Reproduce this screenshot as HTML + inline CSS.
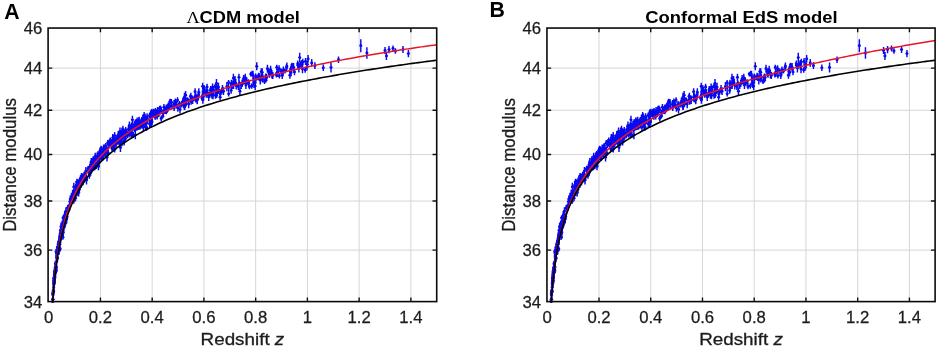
<!DOCTYPE html>
<html lang="en"><head><meta charset="utf-8"><title>Distance modulus vs redshift</title>
<style>html,body{margin:0;padding:0;background:#fff;overflow:hidden}svg{display:block}</style>
</head><body>
<svg width="941" height="347" viewBox="0 0 941 347" font-family="'Liberation Sans',Arial,Helvetica,sans-serif">
<rect width="941" height="347" fill="#fff"/>
<g>
<path d="M100.44 28.05 V301.6 M152.18 28.05 V301.6 M203.92 28.05 V301.6 M255.66 28.05 V301.6 M307.4 28.05 V301.6 M359.14 28.05 V301.6 M410.88 28.05 V301.6 M48.1 250.11 H436.7 M48.1 201.07 H436.7 M48.1 154.54 H436.7 M48.1 110.29 H436.7 M48.1 68.1 H436.7" stroke="#d6d6d6" stroke-width="1.0" fill="none"/>
<clipPath id="c0"><rect x="48.1" y="28.05" width="388.6" height="274.45"/></clipPath>
<g clip-path="url(#c0)">
<path d="M52.88 291.18v5.54M55.61 264.26v9.64M54.28 274.95v9.7M55.39 268.57v6.32M56.38 262.18v9.58M54.67 268.81v9.56M54.53 272.75v5.27M52.86 289.12v8.72M53.62 282.51v9.81M54.52 273.26v8.97M55.22 267.22v5.36M55.7 265.51v6.78M54.06 276.97v7.67M52.84 298.5v6.78M53.7 281.59v6.78M56.11 260.01v5.12M53.41 287.92v4.82M54.33 278.52v6.3M56.19 266.02v6.86M52.68 300.04v7.91M54.91 272.74v9.67M56.27 268.33v5.15M53.47 288.07v6.6M54.71 266.26v9.17M56.11 262.94v8.9M53.1 296.67v5.39M54.61 270.33v8.16M55.49 269.36v5.11M55.18 262.95v9.5M54.4 275.7v6.09M53.38 287.55v7.96M54.48 271.06v7.14M54.03 275.19v7.38M54.43 277.46v5.84M54 279.75v6.61M55.83 262.05v6.07M55.56 268.55v7.89M53.8 274.55v6.89M54.8 267.49v7.75M53.65 279.16v7.51M54.34 273.67v8.14M53.95 275.95v9.78M55.13 268.31v7.45M54.02 276.34v7.54M54.36 276.26v7.91M55.37 265.91v7.49M54.18 274.71v6.84M56.1 248.87v5.81M53.28 288.47v7.62M55.46 260.68v5.89M54.22 277.06v8.14M54.24 278.96v9.37M55.04 267.83v8.79M54.61 272.32v8.79M54.19 279.35v5.82M52.59 297.02v5M52.94 292.09v5.85M55.33 264.48v7.58M54.62 269.85v5.31M55.28 269.16v5.2M63.88 219.76v9.35M61.76 231.22v6.27M56.87 256.38v4.94M58.86 240.94v7.13M61.06 222.6v7.87M58.29 243.45v6.86M63.95 222.49v5.09M63.8 223.75v6.97M63.05 215.53v4.8M60.13 229.98v8.17M62.99 222.75v9.16M57.48 255.32v4.87M58.86 243.96v7.4M60.05 232.43v8.67M62.22 220.61v7.56M60.23 246.24v5.37M57.52 244.7v4.93M59.13 237.76v6.82M58.98 239.72v4.83M58.79 237.63v8.72M57.75 247.48v7.19M59.68 237.31v6.1M59.94 231.79v8.38M62.48 227.43v5.57M62.64 230.45v7.07M60.52 232.78v7.03M60.04 234.63v5.07M62.5 226.41v8.4M63.35 223.21v7.94M61.7 228.06v5.43M62.67 226.22v6.58M63.75 220.05v5.92M56.78 248.62v9.33M63.26 228.55v7.88M58.61 245.76v9.32M60.15 232.78v8.29M62.64 223.08v8.38M62.03 229.22v5.98M57.6 246.3v8.85M61.57 226.94v6.14M57 248.33v8.73M59.23 246.24v8.2M62.77 221.2v6.96M59.78 236.26v5.39M61.12 226.35v7.41M62.11 226.04v7.64M62.83 226.91v7.85M62.36 228.91v4.83M56.52 253.11v5.84M59.72 240.53v7.33M60.06 234.95v8.74M56.89 250.6v5.76M60.66 234.58v8.96M61.18 227.54v9.32M62.89 234.76v4.99M63.77 218.14v7.96M57.46 255.28v6.67M58.25 247.2v5.24M61.58 223.61v5.58M57.49 246.07v6.42M58.2 241.63v4.65M60.92 228.19v7.88M57.78 243.75v6.81M62.53 225.51v6.14M63.11 217.79v8.65M56.72 253.06v9.53M60.59 226.84v6.8M62.65 227.37v6.02M64.03 219.33v7.47M58.59 241.13v6.56M65.97 210.9v8.85M73.29 195.24v5.74M73.63 198.77v4.95M66.27 213.57v4.47M68.79 205.34v5.17M71.66 198.61v4.76M72.97 190.04v8.79M65.96 211.06v7.78M71.1 195.15v7.08M72.58 189.69v8.87M69.91 197.92v7.34M65.93 207.18v7.76M64.59 223.13v5.34M67.14 213.81v5.81M72.58 194.91v7.35M64.69 210.94v8.47M64.31 219.89v5.85M67.96 204.8v6.69M64.88 220.66v5.9M65.77 210.78v5.79M64.46 213.6v7.27M69.65 201.77v8.82M71.43 192.83v8.97M68.64 204.94v7.16M65.61 220.55v4.56M67.65 204.96v5.8M70.33 195.35v7.47M73.96 189.64v8.67M74.49 191.58v5.16M66.72 214.89v8.45M64.33 217.05v8.79M72.82 194.3v4.89M73.81 182.64v8.65M68.97 203.63v7.37M72.2 194.55v8.37M85.77 172.8v7.44M82.46 177.98v7.57M85.86 166.94v8.24M74.88 190.59v8.12M78.08 185.66v6.34M78.16 184.02v6.21M76.13 180.94v8.91M86.35 177.13v5.6M74.96 188.38v6.08M83.27 173.52v4.88M75.49 195.24v5.96M79.24 183.64v6.98M79.98 178.49v5.28M76.92 178.67v6.24M81.31 180.4v7.34M81.49 173.03v6M78.67 188.64v7.92M84.1 171.81v6.84M76.64 190.08v5.96M77.06 188.37v7.79M79.16 181.31v7.02M79.46 179.13v6.43M77.24 185.61v5.03M86.45 173.53v9.11M85.28 171.18v5.26M75.95 184.05v6.22M79.35 186.06v7.08M77.58 183.69v8.76M80.4 175.54v5.62M78.14 179.13v4.75M81.06 177.57v7.78M86.5 175.64v8.78M79.52 182.3v6.41M82.98 176.18v9.1M82.27 173.41v5.83M84.3 173.42v8.5M75.37 192.11v4.3M84.2 174.92v7.5M99.75 151.09v8.28M95.31 164.02v5.55M91.22 163.28v8.11M96.2 160.58v7.24M96.72 156.21v5.88M96 162.11v4.56M89.41 169.93v7.33M100.1 147.57v6.04M99.86 150.6v6.73M93 160.97v5.03M95.18 160.69v4.46M88.02 166.31v4.83M100.29 149.96v7.42M98.1 151.08v5.01M95.74 158.88v5.51M97.35 160.19v6.97M89.94 164.59v5.41M91.48 160.36v6.31M90.69 169.61v6.25M95.21 152.66v7.71M88.69 165.82v6.03M99.09 157.43v5.68M93.48 156.53v8.98M93.26 156.34v5.21M88.86 167.68v7.13M96.36 161.88v7.12M98.07 156.08v5.71M95.65 157.33v7.68M90.64 160.6v7.93M97.66 154.99v6.35M89.39 172.76v5.94M98.21 159.33v4.85M95.02 160.75v8.33M91.25 157.9v8.93M94.14 157.77v5.51M95.64 162.11v5.73M90.85 164.21v7.39M98.46 162.53v7.78M92.95 162.25v8.06M99.05 158.58v7.81M98.31 155.5v7.38M88.79 168.46v7.14M95.86 156.27v4.27M91.52 165.61v6.74M97.26 152.48v7.48M94.52 158.33v5.62M93.42 165.11v5.59M99.09 154.42v6.35M88.25 165.83v6.9M94.71 165.73v4.59M104.68 146.42v7.51M100.9 152.11v7.51M110.19 137.39v5.45M107.71 140.11v5.64M112.01 146.11v4.95M108.18 149.72v6.33M104.8 146.3v8.5M113.18 138.51v5.99M101.94 150v8.63M101.12 151.99v5.26M109.92 138.7v5.12M105.24 150.59v6.5M105.12 146.74v5.21M111.78 139.02v4.84M104.67 148.21v7.38M111.94 140v5.7M108.77 140.58v7.4M104.7 151.25v5.24M101.21 152.8v5.51M103.61 144.52v8.21M112.97 143.2v6.96M105.68 143.12v4.85M102.51 151.47v6.24M104.29 147.19v4.68M112.08 143.86v4.58M102.57 148.28v7.03M110.5 140.78v5.02M102.18 153.19v5.48M112.88 143.77v4.5M107.3 146.45v4.88M101 145.68v6.43M112.48 144.31v4.97M105.07 144.59v5.7M109.9 140.39v6.44M107.21 147.16v5.29M101.64 150.72v5.02M101.81 146.52v4.76M102.37 152.49v8.39M102.53 155.02v6.01M101.12 151.08v6.41M101.05 152.4v7.59M112.71 134.05v7.51M101.62 146.19v7.31M107.02 152.96v8.47M101.97 148.78v6.65M103.22 152.12v5.15M110.31 139.5v6.85M112.57 144.05v6.44M106.52 146.37v7.86M100.51 150.5v5.58M126.3 129.55v7.16M113.99 137.71v4.06M118.41 138.36v6.22M120.35 138.48v5.77M124.91 131.68v4.68M124.02 129.78v7.72M121.26 132.12v7.8M118.53 135.95v5.37M124.17 136.88v7.39M124.62 130.86v8.33M124.65 131.21v6.74M122.66 127.72v5.88M114.64 132.05v7.04M117.24 134.98v6.07M119.66 139.64v6.96M119.91 131.14v7.48M124.15 133.43v5.77M116.45 135.35v7.01M121.97 135.27v6.5M118.22 131.09v7.08M123.41 130.19v5.73M115.91 138.83v7.4M119.54 130.44v4.66M114.71 146.07v6.51M116.12 140.82v6.68M125.47 136.49v4.14M117.46 135.25v7.72M124.93 130.8v6.68M120.16 142.08v4.88M113.88 139.67v7.98M123.63 129.44v7.65M114.05 135.05v8.57M124.07 138.2v7.23M113.49 144.65v6.8M122.09 127.45v7.52M115.52 139.27v5.85M117.81 138.07v6.03M125.7 126.98v5.76M119.66 132.52v5.62M121.88 137.42v8.72M122.96 132.09v6.78M114.8 140.3v6.5M124.22 129.94v5.88M125.2 133.06v6.09M115.39 137.36v5.14M120.44 143.27v8.62M117.04 136.17v7.63M122.96 125.81v6.51M113.74 136.57v6.77M120 127.52v7.88M136.57 121.51v5.68M135.81 124.41v5.76M127.71 131.72v6.61M137.08 123.95v6.6M129.39 121.53v7.9M136.76 122.05v7.9M132.74 122.84v8.38M128.39 125.76v7.1M135.8 124.64v6.45M136.76 119.07v4.72M135.35 130.76v8.42M138.79 117.38v8.2M129.62 126.01v6.93M129.36 125.86v7.68M128.21 128.79v8.03M133.29 132.1v5.99M131.48 122.58v6.54M130.92 125.52v8.35M132.26 124.2v5.1M129.86 127.62v5.25M126.37 128.99v8.46M132.41 115.63v8.35M129.88 129.77v4.56M132.13 126.35v6.87M138.32 122.54v7.39M128.63 128.55v7.3M134.56 124.68v6.88M134.65 125.05v7.11M129.95 130.32v7.1M132.4 124.27v6.96M138.85 124v4.84M130.74 130.72v5.28M135.52 124.87v5.75M137.18 117.59v8.37M130.98 124.52v6.46M139.11 116.86v6.79M134.41 120.75v8.55M132.79 125v5.04M135.56 122.02v5.47M131.79 132.72v5.26M135.52 119.14v8.16M129.86 126.13v7.32M151.24 110.73v4.75M146.26 120.53v4.5M142.37 121.56v4.91M144.9 113.59v8.29M150.82 117.73v5.98M149.68 119.71v8.38M145.51 120.95v7.69M143.79 115.56v8.92M144.11 112.07v6.41M151.94 112.79v5.87M140.7 120.41v6.73M150.74 115.34v8.59M150.34 119.27v8.47M142.15 122.53v5.96M143.76 115.13v6.53M146.61 116.02v7.57M149.62 112.4v5.99M151.54 112.76v5.42M152.07 119.15v5.27M142.88 114.83v6.65M141.73 117.05v5.33M145.55 122.31v7.75M146.46 123.41v7.46M147.74 115.42v8.75M140.64 121.32v7.34M147.61 116.91v6.07M151.16 115.52v4.82M151.08 113.54v5.77M151.45 116.39v8.18M151.18 120.56v7.36M151.67 108.99v4.5M139.87 122.86v6.87M151.09 111.57v7.34M142.75 118.22v8M143.39 123.39v7.68M145.18 115.61v8.61M151.6 116.6v6.37M147.07 113.21v7.34M156.74 112.92v4.77M157.02 110.01v6.95M163.89 103.9v6.52M162.82 113.74v4.84M153.96 110.39v5.69M155.4 112.47v7.4M156.99 112.43v5.14M154.98 113.78v5.76M159.47 108.44v5.9M155.07 111.48v7.35M159.62 105.73v5.05M164.29 108.12v4.88M163.16 110v5.23M153.46 108.8v7.85M154.86 109.55v4.78M157.52 107.03v7.04M160.54 105.55v6.19M157.18 113.6v6.02M155.43 107.91v5.61M156.64 111.63v6.46M154.82 111.41v4.46M163.33 110.12v5.84M161.2 115.46v6.13M157.5 108.51v4.86M161.24 106.95v6.5M158.9 110.73v6.15M158.99 111.36v4.58M169.87 99.26v5.32M171.43 99.03v6.26M177.86 104.33v7.4M175.26 98.59v8.31M175.82 100.25v7M166.72 105.14v4.88M171.64 102.49v7.21M169.86 102.33v7.99M166.27 105.75v4.28M170.23 98.69v5.39M166.07 109.4v4.18M168.14 103.87v6.88M175.45 99.54v4.76M173.99 99.91v8.68M174.15 105.02v5.95M166.14 105.29v7.17M167.24 105.14v5.65M165.39 108.33v5.56M166.38 109.56v4.71M166.42 104.43v7.9M177.53 97.26v5.55M176.68 102.93v5.2M167.76 106.04v6.08M168.4 102.55v4.83M190.48 97.56v5.25M185.42 99.61v5.77M182.82 97.8v8.57M184.08 99.17v8.34M181.57 102.39v5.16M185.6 91.01v8.26M187.43 97.14v4.06M184.72 102.54v7.4M188.67 99.67v8.65M179.51 100.93v5.66M185.86 98.12v4.89M190.85 92.66v7.96M179.98 105.62v7.79M184.45 92.77v8.78M186.2 101.04v5.29M182.42 99.95v4.52M190.53 94.08v4.1M184.33 104.1v5.98M184.24 97.49v4.57M202.66 82.79v6.98M191.19 97.56v4.43M202.22 93.31v6.15M192.65 96.81v7.1M195.89 93.27v4.63M197.3 95.55v7.98M197.15 95.85v8.28M191.49 95.35v6.12M195.09 88.25v6.76M195.6 93.27v6.25M203.35 92.27v9.02M202.85 95.28v8.43M198.54 90.32v8.94M203.06 88.89v5.52M202.16 95.61v5.29M195.84 98.4v4.08M192.5 95.47v4.4M198.84 88.13v8.74M195.16 93.8v6.97M191.11 98.18v6.59M216.61 92.73v5.32M216.46 79.08v8.47M210.86 86.8v4.21M211.92 91.12v7.73M212.57 83.55v7.34M215.9 83.09v7.9M209.97 89.37v8.2M211.46 88.84v7.19M206.85 87.06v6.69M207.06 83.84v6.22M210.67 86.1v7.65M206.88 88.21v5.03M204.31 85.18v5.78M208.69 92.98v7.93M213.62 86.19v7.79M207.5 89.06v7.56M215.08 84.27v4.09M213.01 91.59v7.63M212.37 85.95v8.42M215.46 91.74v6.91M204.87 88.93v5.78M206.23 91.46v6.39M228.62 83.94v7.2M228.59 79.91v5.5M217.87 88.22v4.78M226.87 82.01v9.36M217.05 87.13v6.82M218.6 86.74v6.09M218.27 87.85v6.2M220.66 89.46v4.65M221.88 87.55v5.25M228.64 91.31v5.1M222.5 85.08v8.13M218.46 82.87v8.33M220.38 89.66v8.79M216.94 84.44v8.98M217.22 89.62v4.53M222.43 88.44v5M223.48 87.26v7.75M220.09 94.01v6.41M234.7 76.64v8.76M231.13 87.03v6.78M238.31 83.21v6.83M234.87 78.2v6.43M231.88 80.74v5.78M236.22 81.73v7.65M232.49 83.58v5.3M233.57 80.98v8.04M231.4 79.86v7.22M239.89 87.17v7.99M233.4 73.86v8.37M242.15 79.38v7.51M235.03 76.01v7.63M231.8 80.88v7.7M238.91 73.69v7.19M239.28 80.43v5.02M241.19 81.93v7.05M231.49 81.56v6.81M252.94 70.84v8.25M253.85 76.31v7.54M246.66 77.33v7.64M248.6 80.72v5.29M250.74 71.74v4.73M245.9 80.89v8.22M254 80.31v7.73M251.77 83.23v5.48M253.81 79.86v4.61M248.54 79.23v4.76M249.44 84.16v5.12M245.24 73.68v8.1M246.79 77.98v6.89M252.16 70.63v5.89M255.13 81.75v8.61M244.69 78.37v5.64M243.38 78.33v6.34M243.6 74.99v7.54M261.29 68.37v6.38M265.91 78.1v4.43M258.57 72.73v6.97M261.83 73.62v4.68M262.33 76.5v6.07M266.5 73.87v6.6M257.78 74.57v5.79M255.85 74.56v9.12M262.21 68.29v8.01M260.26 75.56v8.97M259.44 73.17v7.95M265.65 73.47v5.91M264.5 78.8v5.23M256.75 62.28v8M262.75 74.07v6.62M265.98 74.39v7.94M267.43 64.66v8.06M255.66 73.49v5.81M279.04 65.17v7.03M269.15 70.78v5.97M277.42 68.87v6.02M276.33 72.02v5.44M280.91 68.16v5.23M276.77 64.83v5.21M269.5 70.35v7.4M277.27 69.6v7.46M271.89 70.01v8.56M279.36 73.05v5.57M269 68.39v6.07M272.79 71.92v7.12M277.34 69.05v6.6M270.61 65.85v7.84M289.89 71.61v7.08M290.55 68.16v5.96M291.02 68.72v7.53M292.85 63.86v6.13M286.87 62.38v7.32M283.37 66.47v6.81M284.9 68.47v5.08M286.57 64.02v6.91M282.24 71.89v7.17M290.7 65.99v5.88M282.35 71.28v6.2M282.28 69.72v5.81M293.59 63.11v8.42M291.96 62.63v4.73M297.75 60.53v6.45M298.88 63.71v8.76M305.15 67.25v5.38M302.47 64.69v8.65M297.89 62.49v5.51M300.27 61.29v6.15M305.53 58.02v6.86M294.47 68.59v6.74M307.3 60.61v7.5M301.79 60.08v8.2M323.3 64.5v6.6M331 62.4v10M338.5 56.4v6.6M360.8 39.2v13M366.9 47.3v11.4M385 47v7M386.4 52.1v7.8M389 45.9v7.4M393 45.4v6M395.4 48.2v5.6M403 46.1v7M408.4 49.9v7.4M308.1 55.1v7.6M311.7 59.1v7.6M314.9 62.3v6.8M306.9 64.1v6.4M302.8 58.7v6.8M299.7 52.7v9.8" stroke="#0a0af0" stroke-width="1.45" fill="none"/>
<g fill="#0a0af0"><ellipse cx="52.88" cy="293.95" rx="1.55" ry="1.4"/><ellipse cx="55.61" cy="269.08" rx="1.55" ry="1.4"/><ellipse cx="54.28" cy="279.8" rx="1.55" ry="1.4"/><ellipse cx="55.39" cy="271.72" rx="1.55" ry="1.4"/><ellipse cx="56.38" cy="266.97" rx="1.55" ry="1.4"/><ellipse cx="54.67" cy="273.59" rx="1.55" ry="1.4"/><ellipse cx="54.53" cy="275.38" rx="1.55" ry="1.4"/><ellipse cx="52.86" cy="293.48" rx="1.55" ry="1.4"/><ellipse cx="53.62" cy="287.42" rx="1.55" ry="1.4"/><ellipse cx="54.52" cy="277.74" rx="1.55" ry="1.4"/><ellipse cx="55.22" cy="269.9" rx="1.55" ry="1.4"/><ellipse cx="55.7" cy="268.9" rx="1.55" ry="1.4"/><ellipse cx="54.06" cy="280.8" rx="1.55" ry="1.4"/><ellipse cx="52.84" cy="301.89" rx="1.55" ry="1.4"/><ellipse cx="53.7" cy="284.98" rx="1.55" ry="1.4"/><ellipse cx="56.11" cy="262.57" rx="1.55" ry="1.4"/><ellipse cx="53.41" cy="290.33" rx="1.55" ry="1.4"/><ellipse cx="54.33" cy="281.67" rx="1.55" ry="1.4"/><ellipse cx="56.19" cy="269.45" rx="1.55" ry="1.4"/><ellipse cx="52.68" cy="304" rx="1.55" ry="1.4"/><ellipse cx="54.91" cy="277.58" rx="1.55" ry="1.4"/><ellipse cx="56.27" cy="270.91" rx="1.55" ry="1.4"/><ellipse cx="53.47" cy="291.36" rx="1.55" ry="1.4"/><ellipse cx="54.71" cy="270.84" rx="1.55" ry="1.4"/><ellipse cx="56.11" cy="267.39" rx="1.55" ry="1.4"/><ellipse cx="53.1" cy="299.36" rx="1.55" ry="1.4"/><ellipse cx="54.61" cy="274.41" rx="1.55" ry="1.4"/><ellipse cx="55.49" cy="271.91" rx="1.55" ry="1.4"/><ellipse cx="55.18" cy="267.7" rx="1.55" ry="1.4"/><ellipse cx="54.4" cy="278.74" rx="1.55" ry="1.4"/><ellipse cx="53.38" cy="291.53" rx="1.55" ry="1.4"/><ellipse cx="54.48" cy="274.63" rx="1.55" ry="1.4"/><ellipse cx="54.03" cy="278.88" rx="1.55" ry="1.4"/><ellipse cx="54.43" cy="280.39" rx="1.55" ry="1.4"/><ellipse cx="54" cy="283.05" rx="1.55" ry="1.4"/><ellipse cx="55.83" cy="265.08" rx="1.55" ry="1.4"/><ellipse cx="55.56" cy="272.49" rx="1.55" ry="1.4"/><ellipse cx="53.8" cy="278" rx="1.55" ry="1.4"/><ellipse cx="54.8" cy="271.37" rx="1.55" ry="1.4"/><ellipse cx="53.65" cy="282.91" rx="1.55" ry="1.4"/><ellipse cx="54.34" cy="277.74" rx="1.55" ry="1.4"/><ellipse cx="53.95" cy="280.85" rx="1.55" ry="1.4"/><ellipse cx="55.13" cy="272.03" rx="1.55" ry="1.4"/><ellipse cx="54.02" cy="280.11" rx="1.55" ry="1.4"/><ellipse cx="54.36" cy="280.21" rx="1.55" ry="1.4"/><ellipse cx="55.37" cy="269.65" rx="1.55" ry="1.4"/><ellipse cx="54.18" cy="278.13" rx="1.55" ry="1.4"/><ellipse cx="56.1" cy="251.77" rx="1.55" ry="1.4"/><ellipse cx="53.28" cy="292.28" rx="1.55" ry="1.4"/><ellipse cx="55.46" cy="263.63" rx="1.55" ry="1.4"/><ellipse cx="54.22" cy="281.13" rx="1.55" ry="1.4"/><ellipse cx="54.24" cy="283.65" rx="1.55" ry="1.4"/><ellipse cx="55.04" cy="272.23" rx="1.55" ry="1.4"/><ellipse cx="54.61" cy="276.72" rx="1.55" ry="1.4"/><ellipse cx="54.19" cy="282.26" rx="1.55" ry="1.4"/><ellipse cx="52.59" cy="299.52" rx="1.55" ry="1.4"/><ellipse cx="52.94" cy="295.01" rx="1.55" ry="1.4"/><ellipse cx="55.33" cy="268.27" rx="1.55" ry="1.4"/><ellipse cx="54.62" cy="272.51" rx="1.55" ry="1.4"/><ellipse cx="55.28" cy="271.76" rx="1.55" ry="1.4"/><ellipse cx="63.88" cy="224.44" rx="1.55" ry="1.4"/><ellipse cx="61.76" cy="234.35" rx="1.55" ry="1.4"/><ellipse cx="56.87" cy="258.85" rx="1.55" ry="1.4"/><ellipse cx="58.86" cy="244.51" rx="1.55" ry="1.4"/><ellipse cx="61.06" cy="226.53" rx="1.55" ry="1.4"/><ellipse cx="58.29" cy="246.88" rx="1.55" ry="1.4"/><ellipse cx="63.95" cy="225.04" rx="1.55" ry="1.4"/><ellipse cx="63.8" cy="227.23" rx="1.55" ry="1.4"/><ellipse cx="63.05" cy="217.93" rx="1.55" ry="1.4"/><ellipse cx="60.13" cy="234.07" rx="1.55" ry="1.4"/><ellipse cx="62.99" cy="227.33" rx="1.55" ry="1.4"/><ellipse cx="57.48" cy="257.75" rx="1.55" ry="1.4"/><ellipse cx="58.86" cy="247.66" rx="1.55" ry="1.4"/><ellipse cx="60.05" cy="236.76" rx="1.55" ry="1.4"/><ellipse cx="62.22" cy="224.39" rx="1.55" ry="1.4"/><ellipse cx="60.23" cy="248.92" rx="1.55" ry="1.4"/><ellipse cx="57.52" cy="247.16" rx="1.55" ry="1.4"/><ellipse cx="59.13" cy="241.17" rx="1.55" ry="1.4"/><ellipse cx="58.98" cy="242.14" rx="1.55" ry="1.4"/><ellipse cx="58.79" cy="241.99" rx="1.55" ry="1.4"/><ellipse cx="57.75" cy="251.07" rx="1.55" ry="1.4"/><ellipse cx="59.68" cy="240.36" rx="1.55" ry="1.4"/><ellipse cx="59.94" cy="235.97" rx="1.55" ry="1.4"/><ellipse cx="62.48" cy="230.21" rx="1.55" ry="1.4"/><ellipse cx="62.64" cy="233.99" rx="1.55" ry="1.4"/><ellipse cx="60.52" cy="236.29" rx="1.55" ry="1.4"/><ellipse cx="60.04" cy="237.16" rx="1.55" ry="1.4"/><ellipse cx="62.5" cy="230.61" rx="1.55" ry="1.4"/><ellipse cx="63.35" cy="227.18" rx="1.55" ry="1.4"/><ellipse cx="61.7" cy="230.78" rx="1.55" ry="1.4"/><ellipse cx="62.67" cy="229.51" rx="1.55" ry="1.4"/><ellipse cx="63.75" cy="223.01" rx="1.55" ry="1.4"/><ellipse cx="56.78" cy="253.29" rx="1.55" ry="1.4"/><ellipse cx="63.26" cy="232.49" rx="1.55" ry="1.4"/><ellipse cx="58.61" cy="250.42" rx="1.55" ry="1.4"/><ellipse cx="60.15" cy="236.92" rx="1.55" ry="1.4"/><ellipse cx="62.64" cy="227.27" rx="1.55" ry="1.4"/><ellipse cx="62.03" cy="232.21" rx="1.55" ry="1.4"/><ellipse cx="57.6" cy="250.73" rx="1.55" ry="1.4"/><ellipse cx="61.57" cy="230.01" rx="1.55" ry="1.4"/><ellipse cx="57" cy="252.7" rx="1.55" ry="1.4"/><ellipse cx="59.23" cy="250.34" rx="1.55" ry="1.4"/><ellipse cx="62.77" cy="224.68" rx="1.55" ry="1.4"/><ellipse cx="59.78" cy="238.95" rx="1.55" ry="1.4"/><ellipse cx="61.12" cy="230.06" rx="1.55" ry="1.4"/><ellipse cx="62.11" cy="229.86" rx="1.55" ry="1.4"/><ellipse cx="62.83" cy="230.83" rx="1.55" ry="1.4"/><ellipse cx="62.36" cy="231.32" rx="1.55" ry="1.4"/><ellipse cx="56.52" cy="256.03" rx="1.55" ry="1.4"/><ellipse cx="59.72" cy="244.2" rx="1.55" ry="1.4"/><ellipse cx="60.06" cy="239.32" rx="1.55" ry="1.4"/><ellipse cx="56.89" cy="253.47" rx="1.55" ry="1.4"/><ellipse cx="60.66" cy="239.06" rx="1.55" ry="1.4"/><ellipse cx="61.18" cy="232.2" rx="1.55" ry="1.4"/><ellipse cx="62.89" cy="237.25" rx="1.55" ry="1.4"/><ellipse cx="63.77" cy="222.12" rx="1.55" ry="1.4"/><ellipse cx="57.46" cy="258.61" rx="1.55" ry="1.4"/><ellipse cx="58.25" cy="249.81" rx="1.55" ry="1.4"/><ellipse cx="61.58" cy="226.4" rx="1.55" ry="1.4"/><ellipse cx="57.49" cy="249.28" rx="1.55" ry="1.4"/><ellipse cx="58.2" cy="243.95" rx="1.55" ry="1.4"/><ellipse cx="60.92" cy="232.13" rx="1.55" ry="1.4"/><ellipse cx="57.78" cy="247.15" rx="1.55" ry="1.4"/><ellipse cx="62.53" cy="228.58" rx="1.55" ry="1.4"/><ellipse cx="63.11" cy="222.12" rx="1.55" ry="1.4"/><ellipse cx="56.72" cy="257.82" rx="1.55" ry="1.4"/><ellipse cx="60.59" cy="230.25" rx="1.55" ry="1.4"/><ellipse cx="62.65" cy="230.38" rx="1.55" ry="1.4"/><ellipse cx="64.03" cy="223.06" rx="1.55" ry="1.4"/><ellipse cx="58.59" cy="244.41" rx="1.55" ry="1.4"/><ellipse cx="65.97" cy="215.32" rx="1.55" ry="1.4"/><ellipse cx="73.29" cy="198.11" rx="1.55" ry="1.4"/><ellipse cx="73.63" cy="201.24" rx="1.55" ry="1.4"/><ellipse cx="66.27" cy="215.81" rx="1.55" ry="1.4"/><ellipse cx="68.79" cy="207.92" rx="1.55" ry="1.4"/><ellipse cx="71.66" cy="200.99" rx="1.55" ry="1.4"/><ellipse cx="72.97" cy="194.43" rx="1.55" ry="1.4"/><ellipse cx="65.96" cy="214.95" rx="1.55" ry="1.4"/><ellipse cx="71.1" cy="198.69" rx="1.55" ry="1.4"/><ellipse cx="72.58" cy="194.12" rx="1.55" ry="1.4"/><ellipse cx="69.91" cy="201.59" rx="1.55" ry="1.4"/><ellipse cx="65.93" cy="211.06" rx="1.55" ry="1.4"/><ellipse cx="64.59" cy="225.8" rx="1.55" ry="1.4"/><ellipse cx="67.14" cy="216.71" rx="1.55" ry="1.4"/><ellipse cx="72.58" cy="198.58" rx="1.55" ry="1.4"/><ellipse cx="64.69" cy="215.18" rx="1.55" ry="1.4"/><ellipse cx="64.31" cy="222.82" rx="1.55" ry="1.4"/><ellipse cx="67.96" cy="208.14" rx="1.55" ry="1.4"/><ellipse cx="64.88" cy="223.61" rx="1.55" ry="1.4"/><ellipse cx="65.77" cy="213.68" rx="1.55" ry="1.4"/><ellipse cx="64.46" cy="217.24" rx="1.55" ry="1.4"/><ellipse cx="69.65" cy="206.18" rx="1.55" ry="1.4"/><ellipse cx="71.43" cy="197.31" rx="1.55" ry="1.4"/><ellipse cx="68.64" cy="208.52" rx="1.55" ry="1.4"/><ellipse cx="65.61" cy="222.83" rx="1.55" ry="1.4"/><ellipse cx="67.65" cy="207.86" rx="1.55" ry="1.4"/><ellipse cx="70.33" cy="199.08" rx="1.55" ry="1.4"/><ellipse cx="73.96" cy="193.98" rx="1.55" ry="1.4"/><ellipse cx="74.49" cy="194.16" rx="1.55" ry="1.4"/><ellipse cx="66.72" cy="219.11" rx="1.55" ry="1.4"/><ellipse cx="64.33" cy="221.45" rx="1.55" ry="1.4"/><ellipse cx="72.82" cy="196.75" rx="1.55" ry="1.4"/><ellipse cx="73.81" cy="186.97" rx="1.55" ry="1.4"/><ellipse cx="68.97" cy="207.31" rx="1.55" ry="1.4"/><ellipse cx="72.2" cy="198.73" rx="1.55" ry="1.4"/><ellipse cx="85.77" cy="176.52" rx="1.55" ry="1.4"/><ellipse cx="82.46" cy="181.77" rx="1.55" ry="1.4"/><ellipse cx="85.86" cy="171.06" rx="1.55" ry="1.4"/><ellipse cx="74.88" cy="194.65" rx="1.55" ry="1.4"/><ellipse cx="78.08" cy="188.83" rx="1.55" ry="1.4"/><ellipse cx="78.16" cy="187.12" rx="1.55" ry="1.4"/><ellipse cx="76.13" cy="185.39" rx="1.55" ry="1.4"/><ellipse cx="86.35" cy="179.93" rx="1.55" ry="1.4"/><ellipse cx="74.96" cy="191.42" rx="1.55" ry="1.4"/><ellipse cx="83.27" cy="175.96" rx="1.55" ry="1.4"/><ellipse cx="75.49" cy="198.22" rx="1.55" ry="1.4"/><ellipse cx="79.24" cy="187.13" rx="1.55" ry="1.4"/><ellipse cx="79.98" cy="181.13" rx="1.55" ry="1.4"/><ellipse cx="76.92" cy="181.79" rx="1.55" ry="1.4"/><ellipse cx="81.31" cy="184.07" rx="1.55" ry="1.4"/><ellipse cx="81.49" cy="176.03" rx="1.55" ry="1.4"/><ellipse cx="78.67" cy="192.6" rx="1.55" ry="1.4"/><ellipse cx="84.1" cy="175.23" rx="1.55" ry="1.4"/><ellipse cx="76.64" cy="193.05" rx="1.55" ry="1.4"/><ellipse cx="77.06" cy="192.27" rx="1.55" ry="1.4"/><ellipse cx="79.16" cy="184.82" rx="1.55" ry="1.4"/><ellipse cx="79.46" cy="182.35" rx="1.55" ry="1.4"/><ellipse cx="77.24" cy="188.13" rx="1.55" ry="1.4"/><ellipse cx="86.45" cy="178.09" rx="1.55" ry="1.4"/><ellipse cx="85.28" cy="173.81" rx="1.55" ry="1.4"/><ellipse cx="75.95" cy="187.16" rx="1.55" ry="1.4"/><ellipse cx="79.35" cy="189.6" rx="1.55" ry="1.4"/><ellipse cx="77.58" cy="188.07" rx="1.55" ry="1.4"/><ellipse cx="80.4" cy="178.35" rx="1.55" ry="1.4"/><ellipse cx="78.14" cy="181.5" rx="1.55" ry="1.4"/><ellipse cx="81.06" cy="181.46" rx="1.55" ry="1.4"/><ellipse cx="86.5" cy="180.03" rx="1.55" ry="1.4"/><ellipse cx="79.52" cy="185.5" rx="1.55" ry="1.4"/><ellipse cx="82.98" cy="180.74" rx="1.55" ry="1.4"/><ellipse cx="82.27" cy="176.32" rx="1.55" ry="1.4"/><ellipse cx="84.3" cy="177.67" rx="1.55" ry="1.4"/><ellipse cx="75.37" cy="194.26" rx="1.55" ry="1.4"/><ellipse cx="84.2" cy="178.67" rx="1.55" ry="1.4"/><ellipse cx="99.75" cy="155.23" rx="1.55" ry="1.4"/><ellipse cx="95.31" cy="166.79" rx="1.55" ry="1.4"/><ellipse cx="91.22" cy="167.33" rx="1.55" ry="1.4"/><ellipse cx="96.2" cy="164.2" rx="1.55" ry="1.4"/><ellipse cx="96.72" cy="159.15" rx="1.55" ry="1.4"/><ellipse cx="96" cy="164.39" rx="1.55" ry="1.4"/><ellipse cx="89.41" cy="173.6" rx="1.55" ry="1.4"/><ellipse cx="100.1" cy="150.59" rx="1.55" ry="1.4"/><ellipse cx="99.86" cy="153.97" rx="1.55" ry="1.4"/><ellipse cx="93" cy="163.48" rx="1.55" ry="1.4"/><ellipse cx="95.18" cy="162.92" rx="1.55" ry="1.4"/><ellipse cx="88.02" cy="168.73" rx="1.55" ry="1.4"/><ellipse cx="100.29" cy="153.67" rx="1.55" ry="1.4"/><ellipse cx="98.1" cy="153.59" rx="1.55" ry="1.4"/><ellipse cx="95.74" cy="161.64" rx="1.55" ry="1.4"/><ellipse cx="97.35" cy="163.68" rx="1.55" ry="1.4"/><ellipse cx="89.94" cy="167.29" rx="1.55" ry="1.4"/><ellipse cx="91.48" cy="163.52" rx="1.55" ry="1.4"/><ellipse cx="90.69" cy="172.73" rx="1.55" ry="1.4"/><ellipse cx="95.21" cy="156.51" rx="1.55" ry="1.4"/><ellipse cx="88.69" cy="168.83" rx="1.55" ry="1.4"/><ellipse cx="99.09" cy="160.27" rx="1.55" ry="1.4"/><ellipse cx="93.48" cy="161.02" rx="1.55" ry="1.4"/><ellipse cx="93.26" cy="158.94" rx="1.55" ry="1.4"/><ellipse cx="88.86" cy="171.25" rx="1.55" ry="1.4"/><ellipse cx="96.36" cy="165.44" rx="1.55" ry="1.4"/><ellipse cx="98.07" cy="158.93" rx="1.55" ry="1.4"/><ellipse cx="95.65" cy="161.18" rx="1.55" ry="1.4"/><ellipse cx="90.64" cy="164.56" rx="1.55" ry="1.4"/><ellipse cx="97.66" cy="158.16" rx="1.55" ry="1.4"/><ellipse cx="89.39" cy="175.74" rx="1.55" ry="1.4"/><ellipse cx="98.21" cy="161.75" rx="1.55" ry="1.4"/><ellipse cx="95.02" cy="164.92" rx="1.55" ry="1.4"/><ellipse cx="91.25" cy="162.37" rx="1.55" ry="1.4"/><ellipse cx="94.14" cy="160.53" rx="1.55" ry="1.4"/><ellipse cx="95.64" cy="164.98" rx="1.55" ry="1.4"/><ellipse cx="90.85" cy="167.9" rx="1.55" ry="1.4"/><ellipse cx="98.46" cy="166.42" rx="1.55" ry="1.4"/><ellipse cx="92.95" cy="166.28" rx="1.55" ry="1.4"/><ellipse cx="99.05" cy="162.49" rx="1.55" ry="1.4"/><ellipse cx="98.31" cy="159.19" rx="1.55" ry="1.4"/><ellipse cx="88.79" cy="172.03" rx="1.55" ry="1.4"/><ellipse cx="95.86" cy="158.4" rx="1.55" ry="1.4"/><ellipse cx="91.52" cy="168.98" rx="1.55" ry="1.4"/><ellipse cx="97.26" cy="156.22" rx="1.55" ry="1.4"/><ellipse cx="94.52" cy="161.14" rx="1.55" ry="1.4"/><ellipse cx="93.42" cy="167.9" rx="1.55" ry="1.4"/><ellipse cx="99.09" cy="157.59" rx="1.55" ry="1.4"/><ellipse cx="88.25" cy="169.29" rx="1.55" ry="1.4"/><ellipse cx="94.71" cy="168.02" rx="1.55" ry="1.4"/><ellipse cx="104.68" cy="150.18" rx="1.55" ry="1.4"/><ellipse cx="100.9" cy="155.86" rx="1.55" ry="1.4"/><ellipse cx="110.19" cy="140.11" rx="1.55" ry="1.4"/><ellipse cx="107.71" cy="142.93" rx="1.55" ry="1.4"/><ellipse cx="112.01" cy="148.59" rx="1.55" ry="1.4"/><ellipse cx="108.18" cy="152.88" rx="1.55" ry="1.4"/><ellipse cx="104.8" cy="150.55" rx="1.55" ry="1.4"/><ellipse cx="113.18" cy="141.5" rx="1.55" ry="1.4"/><ellipse cx="101.94" cy="154.31" rx="1.55" ry="1.4"/><ellipse cx="101.12" cy="154.61" rx="1.55" ry="1.4"/><ellipse cx="109.92" cy="141.26" rx="1.55" ry="1.4"/><ellipse cx="105.24" cy="153.84" rx="1.55" ry="1.4"/><ellipse cx="105.12" cy="149.34" rx="1.55" ry="1.4"/><ellipse cx="111.78" cy="141.44" rx="1.55" ry="1.4"/><ellipse cx="104.67" cy="151.9" rx="1.55" ry="1.4"/><ellipse cx="111.94" cy="142.85" rx="1.55" ry="1.4"/><ellipse cx="108.77" cy="144.29" rx="1.55" ry="1.4"/><ellipse cx="104.7" cy="153.87" rx="1.55" ry="1.4"/><ellipse cx="101.21" cy="155.56" rx="1.55" ry="1.4"/><ellipse cx="103.61" cy="148.63" rx="1.55" ry="1.4"/><ellipse cx="112.97" cy="146.68" rx="1.55" ry="1.4"/><ellipse cx="105.68" cy="145.55" rx="1.55" ry="1.4"/><ellipse cx="102.51" cy="154.59" rx="1.55" ry="1.4"/><ellipse cx="104.29" cy="149.53" rx="1.55" ry="1.4"/><ellipse cx="112.08" cy="146.15" rx="1.55" ry="1.4"/><ellipse cx="102.57" cy="151.79" rx="1.55" ry="1.4"/><ellipse cx="110.5" cy="143.29" rx="1.55" ry="1.4"/><ellipse cx="102.18" cy="155.93" rx="1.55" ry="1.4"/><ellipse cx="112.88" cy="146.02" rx="1.55" ry="1.4"/><ellipse cx="107.3" cy="148.89" rx="1.55" ry="1.4"/><ellipse cx="101" cy="148.89" rx="1.55" ry="1.4"/><ellipse cx="112.48" cy="146.8" rx="1.55" ry="1.4"/><ellipse cx="105.07" cy="147.44" rx="1.55" ry="1.4"/><ellipse cx="109.9" cy="143.61" rx="1.55" ry="1.4"/><ellipse cx="107.21" cy="149.8" rx="1.55" ry="1.4"/><ellipse cx="101.64" cy="153.23" rx="1.55" ry="1.4"/><ellipse cx="101.81" cy="148.9" rx="1.55" ry="1.4"/><ellipse cx="102.37" cy="156.68" rx="1.55" ry="1.4"/><ellipse cx="102.53" cy="158.02" rx="1.55" ry="1.4"/><ellipse cx="101.12" cy="154.29" rx="1.55" ry="1.4"/><ellipse cx="101.05" cy="156.19" rx="1.55" ry="1.4"/><ellipse cx="112.71" cy="137.81" rx="1.55" ry="1.4"/><ellipse cx="101.62" cy="149.85" rx="1.55" ry="1.4"/><ellipse cx="107.02" cy="157.2" rx="1.55" ry="1.4"/><ellipse cx="101.97" cy="152.11" rx="1.55" ry="1.4"/><ellipse cx="103.22" cy="154.69" rx="1.55" ry="1.4"/><ellipse cx="110.31" cy="142.92" rx="1.55" ry="1.4"/><ellipse cx="112.57" cy="147.27" rx="1.55" ry="1.4"/><ellipse cx="106.52" cy="150.3" rx="1.55" ry="1.4"/><ellipse cx="100.51" cy="153.29" rx="1.55" ry="1.4"/><ellipse cx="126.3" cy="133.13" rx="1.55" ry="1.4"/><ellipse cx="113.99" cy="139.74" rx="1.55" ry="1.4"/><ellipse cx="118.41" cy="141.47" rx="1.55" ry="1.4"/><ellipse cx="120.35" cy="141.36" rx="1.55" ry="1.4"/><ellipse cx="124.91" cy="134.02" rx="1.55" ry="1.4"/><ellipse cx="124.02" cy="133.64" rx="1.55" ry="1.4"/><ellipse cx="121.26" cy="136.02" rx="1.55" ry="1.4"/><ellipse cx="118.53" cy="138.63" rx="1.55" ry="1.4"/><ellipse cx="124.17" cy="140.57" rx="1.55" ry="1.4"/><ellipse cx="124.62" cy="135.03" rx="1.55" ry="1.4"/><ellipse cx="124.65" cy="134.58" rx="1.55" ry="1.4"/><ellipse cx="122.66" cy="130.66" rx="1.55" ry="1.4"/><ellipse cx="114.64" cy="135.57" rx="1.55" ry="1.4"/><ellipse cx="117.24" cy="138.02" rx="1.55" ry="1.4"/><ellipse cx="119.66" cy="143.12" rx="1.55" ry="1.4"/><ellipse cx="119.91" cy="134.88" rx="1.55" ry="1.4"/><ellipse cx="124.15" cy="136.32" rx="1.55" ry="1.4"/><ellipse cx="116.45" cy="138.85" rx="1.55" ry="1.4"/><ellipse cx="121.97" cy="138.53" rx="1.55" ry="1.4"/><ellipse cx="118.22" cy="134.63" rx="1.55" ry="1.4"/><ellipse cx="123.41" cy="133.06" rx="1.55" ry="1.4"/><ellipse cx="115.91" cy="142.53" rx="1.55" ry="1.4"/><ellipse cx="119.54" cy="132.77" rx="1.55" ry="1.4"/><ellipse cx="114.71" cy="149.32" rx="1.55" ry="1.4"/><ellipse cx="116.12" cy="144.16" rx="1.55" ry="1.4"/><ellipse cx="125.47" cy="138.56" rx="1.55" ry="1.4"/><ellipse cx="117.46" cy="139.11" rx="1.55" ry="1.4"/><ellipse cx="124.93" cy="134.14" rx="1.55" ry="1.4"/><ellipse cx="120.16" cy="144.52" rx="1.55" ry="1.4"/><ellipse cx="113.88" cy="143.66" rx="1.55" ry="1.4"/><ellipse cx="123.63" cy="133.26" rx="1.55" ry="1.4"/><ellipse cx="114.05" cy="139.33" rx="1.55" ry="1.4"/><ellipse cx="124.07" cy="141.82" rx="1.55" ry="1.4"/><ellipse cx="113.49" cy="148.05" rx="1.55" ry="1.4"/><ellipse cx="122.09" cy="131.21" rx="1.55" ry="1.4"/><ellipse cx="115.52" cy="142.2" rx="1.55" ry="1.4"/><ellipse cx="117.81" cy="141.08" rx="1.55" ry="1.4"/><ellipse cx="125.7" cy="129.86" rx="1.55" ry="1.4"/><ellipse cx="119.66" cy="135.32" rx="1.55" ry="1.4"/><ellipse cx="121.88" cy="141.78" rx="1.55" ry="1.4"/><ellipse cx="122.96" cy="135.48" rx="1.55" ry="1.4"/><ellipse cx="114.8" cy="143.55" rx="1.55" ry="1.4"/><ellipse cx="124.22" cy="132.88" rx="1.55" ry="1.4"/><ellipse cx="125.2" cy="136.11" rx="1.55" ry="1.4"/><ellipse cx="115.39" cy="139.93" rx="1.55" ry="1.4"/><ellipse cx="120.44" cy="147.58" rx="1.55" ry="1.4"/><ellipse cx="117.04" cy="139.99" rx="1.55" ry="1.4"/><ellipse cx="122.96" cy="129.07" rx="1.55" ry="1.4"/><ellipse cx="113.74" cy="139.96" rx="1.55" ry="1.4"/><ellipse cx="120" cy="131.46" rx="1.55" ry="1.4"/><ellipse cx="136.57" cy="124.35" rx="1.55" ry="1.4"/><ellipse cx="135.81" cy="127.3" rx="1.55" ry="1.4"/><ellipse cx="127.71" cy="135.02" rx="1.55" ry="1.4"/><ellipse cx="137.08" cy="127.26" rx="1.55" ry="1.4"/><ellipse cx="129.39" cy="125.47" rx="1.55" ry="1.4"/><ellipse cx="136.76" cy="126" rx="1.55" ry="1.4"/><ellipse cx="132.74" cy="127.03" rx="1.55" ry="1.4"/><ellipse cx="128.39" cy="129.31" rx="1.55" ry="1.4"/><ellipse cx="135.8" cy="127.86" rx="1.55" ry="1.4"/><ellipse cx="136.76" cy="121.43" rx="1.55" ry="1.4"/><ellipse cx="135.35" cy="134.97" rx="1.55" ry="1.4"/><ellipse cx="138.79" cy="121.48" rx="1.55" ry="1.4"/><ellipse cx="129.62" cy="129.47" rx="1.55" ry="1.4"/><ellipse cx="129.36" cy="129.7" rx="1.55" ry="1.4"/><ellipse cx="128.21" cy="132.8" rx="1.55" ry="1.4"/><ellipse cx="133.29" cy="135.1" rx="1.55" ry="1.4"/><ellipse cx="131.48" cy="125.86" rx="1.55" ry="1.4"/><ellipse cx="130.92" cy="129.7" rx="1.55" ry="1.4"/><ellipse cx="132.26" cy="126.75" rx="1.55" ry="1.4"/><ellipse cx="129.86" cy="130.24" rx="1.55" ry="1.4"/><ellipse cx="126.37" cy="133.23" rx="1.55" ry="1.4"/><ellipse cx="132.41" cy="119.81" rx="1.55" ry="1.4"/><ellipse cx="129.88" cy="132.05" rx="1.55" ry="1.4"/><ellipse cx="132.13" cy="129.79" rx="1.55" ry="1.4"/><ellipse cx="138.32" cy="126.24" rx="1.55" ry="1.4"/><ellipse cx="128.63" cy="132.2" rx="1.55" ry="1.4"/><ellipse cx="134.56" cy="128.12" rx="1.55" ry="1.4"/><ellipse cx="134.65" cy="128.61" rx="1.55" ry="1.4"/><ellipse cx="129.95" cy="133.87" rx="1.55" ry="1.4"/><ellipse cx="132.4" cy="127.75" rx="1.55" ry="1.4"/><ellipse cx="138.85" cy="126.43" rx="1.55" ry="1.4"/><ellipse cx="130.74" cy="133.37" rx="1.55" ry="1.4"/><ellipse cx="135.52" cy="127.74" rx="1.55" ry="1.4"/><ellipse cx="137.18" cy="121.78" rx="1.55" ry="1.4"/><ellipse cx="130.98" cy="127.75" rx="1.55" ry="1.4"/><ellipse cx="139.11" cy="120.26" rx="1.55" ry="1.4"/><ellipse cx="134.41" cy="125.03" rx="1.55" ry="1.4"/><ellipse cx="132.79" cy="127.52" rx="1.55" ry="1.4"/><ellipse cx="135.56" cy="124.75" rx="1.55" ry="1.4"/><ellipse cx="131.79" cy="135.35" rx="1.55" ry="1.4"/><ellipse cx="135.52" cy="123.22" rx="1.55" ry="1.4"/><ellipse cx="129.86" cy="129.79" rx="1.55" ry="1.4"/><ellipse cx="151.24" cy="113.11" rx="1.55" ry="1.4"/><ellipse cx="146.26" cy="122.78" rx="1.55" ry="1.4"/><ellipse cx="142.37" cy="124.02" rx="1.55" ry="1.4"/><ellipse cx="144.9" cy="117.74" rx="1.55" ry="1.4"/><ellipse cx="150.82" cy="120.72" rx="1.55" ry="1.4"/><ellipse cx="149.68" cy="123.91" rx="1.55" ry="1.4"/><ellipse cx="145.51" cy="124.79" rx="1.55" ry="1.4"/><ellipse cx="143.79" cy="120.02" rx="1.55" ry="1.4"/><ellipse cx="144.11" cy="115.28" rx="1.55" ry="1.4"/><ellipse cx="151.94" cy="115.73" rx="1.55" ry="1.4"/><ellipse cx="140.7" cy="123.77" rx="1.55" ry="1.4"/><ellipse cx="150.74" cy="119.63" rx="1.55" ry="1.4"/><ellipse cx="150.34" cy="123.51" rx="1.55" ry="1.4"/><ellipse cx="142.15" cy="125.5" rx="1.55" ry="1.4"/><ellipse cx="143.76" cy="118.39" rx="1.55" ry="1.4"/><ellipse cx="146.61" cy="119.81" rx="1.55" ry="1.4"/><ellipse cx="149.62" cy="115.39" rx="1.55" ry="1.4"/><ellipse cx="151.54" cy="115.47" rx="1.55" ry="1.4"/><ellipse cx="152.07" cy="121.78" rx="1.55" ry="1.4"/><ellipse cx="142.88" cy="118.16" rx="1.55" ry="1.4"/><ellipse cx="141.73" cy="119.71" rx="1.55" ry="1.4"/><ellipse cx="145.55" cy="126.19" rx="1.55" ry="1.4"/><ellipse cx="146.46" cy="127.14" rx="1.55" ry="1.4"/><ellipse cx="147.74" cy="119.8" rx="1.55" ry="1.4"/><ellipse cx="140.64" cy="124.99" rx="1.55" ry="1.4"/><ellipse cx="147.61" cy="119.95" rx="1.55" ry="1.4"/><ellipse cx="151.16" cy="117.93" rx="1.55" ry="1.4"/><ellipse cx="151.08" cy="116.42" rx="1.55" ry="1.4"/><ellipse cx="151.45" cy="120.48" rx="1.55" ry="1.4"/><ellipse cx="151.18" cy="124.24" rx="1.55" ry="1.4"/><ellipse cx="151.67" cy="111.23" rx="1.55" ry="1.4"/><ellipse cx="139.87" cy="126.29" rx="1.55" ry="1.4"/><ellipse cx="151.09" cy="115.24" rx="1.55" ry="1.4"/><ellipse cx="142.75" cy="122.21" rx="1.55" ry="1.4"/><ellipse cx="143.39" cy="127.22" rx="1.55" ry="1.4"/><ellipse cx="145.18" cy="119.91" rx="1.55" ry="1.4"/><ellipse cx="151.6" cy="119.79" rx="1.55" ry="1.4"/><ellipse cx="147.07" cy="116.87" rx="1.55" ry="1.4"/><ellipse cx="156.74" cy="115.31" rx="1.55" ry="1.4"/><ellipse cx="157.02" cy="113.48" rx="1.55" ry="1.4"/><ellipse cx="163.89" cy="107.16" rx="1.55" ry="1.4"/><ellipse cx="162.82" cy="116.16" rx="1.55" ry="1.4"/><ellipse cx="153.96" cy="113.23" rx="1.55" ry="1.4"/><ellipse cx="155.4" cy="116.17" rx="1.55" ry="1.4"/><ellipse cx="156.99" cy="115" rx="1.55" ry="1.4"/><ellipse cx="154.98" cy="116.66" rx="1.55" ry="1.4"/><ellipse cx="159.47" cy="111.39" rx="1.55" ry="1.4"/><ellipse cx="155.07" cy="115.16" rx="1.55" ry="1.4"/><ellipse cx="159.62" cy="108.25" rx="1.55" ry="1.4"/><ellipse cx="164.29" cy="110.56" rx="1.55" ry="1.4"/><ellipse cx="163.16" cy="112.62" rx="1.55" ry="1.4"/><ellipse cx="153.46" cy="112.73" rx="1.55" ry="1.4"/><ellipse cx="154.86" cy="111.94" rx="1.55" ry="1.4"/><ellipse cx="157.52" cy="110.55" rx="1.55" ry="1.4"/><ellipse cx="160.54" cy="108.64" rx="1.55" ry="1.4"/><ellipse cx="157.18" cy="116.61" rx="1.55" ry="1.4"/><ellipse cx="155.43" cy="110.71" rx="1.55" ry="1.4"/><ellipse cx="156.64" cy="114.86" rx="1.55" ry="1.4"/><ellipse cx="154.82" cy="113.64" rx="1.55" ry="1.4"/><ellipse cx="163.33" cy="113.05" rx="1.55" ry="1.4"/><ellipse cx="161.2" cy="118.52" rx="1.55" ry="1.4"/><ellipse cx="157.5" cy="110.94" rx="1.55" ry="1.4"/><ellipse cx="161.24" cy="110.19" rx="1.55" ry="1.4"/><ellipse cx="158.9" cy="113.81" rx="1.55" ry="1.4"/><ellipse cx="158.99" cy="113.65" rx="1.55" ry="1.4"/><ellipse cx="169.87" cy="101.92" rx="1.55" ry="1.4"/><ellipse cx="171.43" cy="102.17" rx="1.55" ry="1.4"/><ellipse cx="177.86" cy="108.03" rx="1.55" ry="1.4"/><ellipse cx="175.26" cy="102.75" rx="1.55" ry="1.4"/><ellipse cx="175.82" cy="103.75" rx="1.55" ry="1.4"/><ellipse cx="166.72" cy="107.58" rx="1.55" ry="1.4"/><ellipse cx="171.64" cy="106.09" rx="1.55" ry="1.4"/><ellipse cx="169.86" cy="106.32" rx="1.55" ry="1.4"/><ellipse cx="166.27" cy="107.89" rx="1.55" ry="1.4"/><ellipse cx="170.23" cy="101.39" rx="1.55" ry="1.4"/><ellipse cx="166.07" cy="111.49" rx="1.55" ry="1.4"/><ellipse cx="168.14" cy="107.31" rx="1.55" ry="1.4"/><ellipse cx="175.45" cy="101.92" rx="1.55" ry="1.4"/><ellipse cx="173.99" cy="104.26" rx="1.55" ry="1.4"/><ellipse cx="174.15" cy="108" rx="1.55" ry="1.4"/><ellipse cx="166.14" cy="108.87" rx="1.55" ry="1.4"/><ellipse cx="167.24" cy="107.97" rx="1.55" ry="1.4"/><ellipse cx="165.39" cy="111.1" rx="1.55" ry="1.4"/><ellipse cx="166.38" cy="111.91" rx="1.55" ry="1.4"/><ellipse cx="166.42" cy="108.38" rx="1.55" ry="1.4"/><ellipse cx="177.53" cy="100.04" rx="1.55" ry="1.4"/><ellipse cx="176.68" cy="105.53" rx="1.55" ry="1.4"/><ellipse cx="167.76" cy="109.08" rx="1.55" ry="1.4"/><ellipse cx="168.4" cy="104.97" rx="1.55" ry="1.4"/><ellipse cx="190.48" cy="100.19" rx="1.55" ry="1.4"/><ellipse cx="185.42" cy="102.49" rx="1.55" ry="1.4"/><ellipse cx="182.82" cy="102.09" rx="1.55" ry="1.4"/><ellipse cx="184.08" cy="103.34" rx="1.55" ry="1.4"/><ellipse cx="181.57" cy="104.97" rx="1.55" ry="1.4"/><ellipse cx="185.6" cy="95.14" rx="1.55" ry="1.4"/><ellipse cx="187.43" cy="99.16" rx="1.55" ry="1.4"/><ellipse cx="184.72" cy="106.23" rx="1.55" ry="1.4"/><ellipse cx="188.67" cy="104" rx="1.55" ry="1.4"/><ellipse cx="179.51" cy="103.76" rx="1.55" ry="1.4"/><ellipse cx="185.86" cy="100.57" rx="1.55" ry="1.4"/><ellipse cx="190.85" cy="96.65" rx="1.55" ry="1.4"/><ellipse cx="179.98" cy="109.52" rx="1.55" ry="1.4"/><ellipse cx="184.45" cy="97.16" rx="1.55" ry="1.4"/><ellipse cx="186.2" cy="103.68" rx="1.55" ry="1.4"/><ellipse cx="182.42" cy="102.21" rx="1.55" ry="1.4"/><ellipse cx="190.53" cy="96.13" rx="1.55" ry="1.4"/><ellipse cx="184.33" cy="107.09" rx="1.55" ry="1.4"/><ellipse cx="184.24" cy="99.78" rx="1.55" ry="1.4"/><ellipse cx="202.66" cy="86.28" rx="1.55" ry="1.4"/><ellipse cx="191.19" cy="99.77" rx="1.55" ry="1.4"/><ellipse cx="202.22" cy="96.38" rx="1.55" ry="1.4"/><ellipse cx="192.65" cy="100.37" rx="1.55" ry="1.4"/><ellipse cx="195.89" cy="95.59" rx="1.55" ry="1.4"/><ellipse cx="197.3" cy="99.54" rx="1.55" ry="1.4"/><ellipse cx="197.15" cy="99.99" rx="1.55" ry="1.4"/><ellipse cx="191.49" cy="98.41" rx="1.55" ry="1.4"/><ellipse cx="195.09" cy="91.63" rx="1.55" ry="1.4"/><ellipse cx="195.6" cy="96.4" rx="1.55" ry="1.4"/><ellipse cx="203.35" cy="96.79" rx="1.55" ry="1.4"/><ellipse cx="202.85" cy="99.5" rx="1.55" ry="1.4"/><ellipse cx="198.54" cy="94.79" rx="1.55" ry="1.4"/><ellipse cx="203.06" cy="91.65" rx="1.55" ry="1.4"/><ellipse cx="202.16" cy="98.26" rx="1.55" ry="1.4"/><ellipse cx="195.84" cy="100.44" rx="1.55" ry="1.4"/><ellipse cx="192.5" cy="97.67" rx="1.55" ry="1.4"/><ellipse cx="198.84" cy="92.51" rx="1.55" ry="1.4"/><ellipse cx="195.16" cy="97.28" rx="1.55" ry="1.4"/><ellipse cx="191.11" cy="101.47" rx="1.55" ry="1.4"/><ellipse cx="216.61" cy="95.39" rx="1.55" ry="1.4"/><ellipse cx="216.46" cy="83.31" rx="1.55" ry="1.4"/><ellipse cx="210.86" cy="88.9" rx="1.55" ry="1.4"/><ellipse cx="211.92" cy="94.99" rx="1.55" ry="1.4"/><ellipse cx="212.57" cy="87.22" rx="1.55" ry="1.4"/><ellipse cx="215.9" cy="87.04" rx="1.55" ry="1.4"/><ellipse cx="209.97" cy="93.47" rx="1.55" ry="1.4"/><ellipse cx="211.46" cy="92.44" rx="1.55" ry="1.4"/><ellipse cx="206.85" cy="90.4" rx="1.55" ry="1.4"/><ellipse cx="207.06" cy="86.95" rx="1.55" ry="1.4"/><ellipse cx="210.67" cy="89.92" rx="1.55" ry="1.4"/><ellipse cx="206.88" cy="90.72" rx="1.55" ry="1.4"/><ellipse cx="204.31" cy="88.06" rx="1.55" ry="1.4"/><ellipse cx="208.69" cy="96.94" rx="1.55" ry="1.4"/><ellipse cx="213.62" cy="90.09" rx="1.55" ry="1.4"/><ellipse cx="207.5" cy="92.84" rx="1.55" ry="1.4"/><ellipse cx="215.08" cy="86.32" rx="1.55" ry="1.4"/><ellipse cx="213.01" cy="95.4" rx="1.55" ry="1.4"/><ellipse cx="212.37" cy="90.17" rx="1.55" ry="1.4"/><ellipse cx="215.46" cy="95.2" rx="1.55" ry="1.4"/><ellipse cx="204.87" cy="91.83" rx="1.55" ry="1.4"/><ellipse cx="206.23" cy="94.65" rx="1.55" ry="1.4"/><ellipse cx="228.62" cy="87.54" rx="1.55" ry="1.4"/><ellipse cx="228.59" cy="82.66" rx="1.55" ry="1.4"/><ellipse cx="217.87" cy="90.61" rx="1.55" ry="1.4"/><ellipse cx="226.87" cy="86.69" rx="1.55" ry="1.4"/><ellipse cx="217.05" cy="90.54" rx="1.55" ry="1.4"/><ellipse cx="218.6" cy="89.79" rx="1.55" ry="1.4"/><ellipse cx="218.27" cy="90.95" rx="1.55" ry="1.4"/><ellipse cx="220.66" cy="91.78" rx="1.55" ry="1.4"/><ellipse cx="221.88" cy="90.18" rx="1.55" ry="1.4"/><ellipse cx="228.64" cy="93.86" rx="1.55" ry="1.4"/><ellipse cx="222.5" cy="89.14" rx="1.55" ry="1.4"/><ellipse cx="218.46" cy="87.03" rx="1.55" ry="1.4"/><ellipse cx="220.38" cy="94.05" rx="1.55" ry="1.4"/><ellipse cx="216.94" cy="88.94" rx="1.55" ry="1.4"/><ellipse cx="217.22" cy="91.88" rx="1.55" ry="1.4"/><ellipse cx="222.43" cy="90.94" rx="1.55" ry="1.4"/><ellipse cx="223.48" cy="91.14" rx="1.55" ry="1.4"/><ellipse cx="220.09" cy="97.21" rx="1.55" ry="1.4"/><ellipse cx="234.7" cy="81.02" rx="1.55" ry="1.4"/><ellipse cx="231.13" cy="90.42" rx="1.55" ry="1.4"/><ellipse cx="238.31" cy="86.62" rx="1.55" ry="1.4"/><ellipse cx="234.87" cy="81.42" rx="1.55" ry="1.4"/><ellipse cx="231.88" cy="83.63" rx="1.55" ry="1.4"/><ellipse cx="236.22" cy="85.56" rx="1.55" ry="1.4"/><ellipse cx="232.49" cy="86.23" rx="1.55" ry="1.4"/><ellipse cx="233.57" cy="85" rx="1.55" ry="1.4"/><ellipse cx="231.4" cy="83.47" rx="1.55" ry="1.4"/><ellipse cx="239.89" cy="91.17" rx="1.55" ry="1.4"/><ellipse cx="233.4" cy="78.05" rx="1.55" ry="1.4"/><ellipse cx="242.15" cy="83.14" rx="1.55" ry="1.4"/><ellipse cx="235.03" cy="79.83" rx="1.55" ry="1.4"/><ellipse cx="231.8" cy="84.72" rx="1.55" ry="1.4"/><ellipse cx="238.91" cy="77.29" rx="1.55" ry="1.4"/><ellipse cx="239.28" cy="82.94" rx="1.55" ry="1.4"/><ellipse cx="241.19" cy="85.46" rx="1.55" ry="1.4"/><ellipse cx="231.49" cy="84.97" rx="1.55" ry="1.4"/><ellipse cx="252.94" cy="74.96" rx="1.55" ry="1.4"/><ellipse cx="253.85" cy="80.08" rx="1.55" ry="1.4"/><ellipse cx="246.66" cy="81.15" rx="1.55" ry="1.4"/><ellipse cx="248.6" cy="83.36" rx="1.55" ry="1.4"/><ellipse cx="250.74" cy="74.11" rx="1.55" ry="1.4"/><ellipse cx="245.9" cy="85" rx="1.55" ry="1.4"/><ellipse cx="254" cy="84.17" rx="1.55" ry="1.4"/><ellipse cx="251.77" cy="85.97" rx="1.55" ry="1.4"/><ellipse cx="253.81" cy="82.17" rx="1.55" ry="1.4"/><ellipse cx="248.54" cy="81.61" rx="1.55" ry="1.4"/><ellipse cx="249.44" cy="86.72" rx="1.55" ry="1.4"/><ellipse cx="245.24" cy="77.73" rx="1.55" ry="1.4"/><ellipse cx="246.79" cy="81.42" rx="1.55" ry="1.4"/><ellipse cx="252.16" cy="73.57" rx="1.55" ry="1.4"/><ellipse cx="255.13" cy="86.06" rx="1.55" ry="1.4"/><ellipse cx="244.69" cy="81.2" rx="1.55" ry="1.4"/><ellipse cx="243.38" cy="81.5" rx="1.55" ry="1.4"/><ellipse cx="243.6" cy="78.76" rx="1.55" ry="1.4"/><ellipse cx="261.29" cy="71.56" rx="1.55" ry="1.4"/><ellipse cx="265.91" cy="80.31" rx="1.55" ry="1.4"/><ellipse cx="258.57" cy="76.22" rx="1.55" ry="1.4"/><ellipse cx="261.83" cy="75.96" rx="1.55" ry="1.4"/><ellipse cx="262.33" cy="79.53" rx="1.55" ry="1.4"/><ellipse cx="266.5" cy="77.17" rx="1.55" ry="1.4"/><ellipse cx="257.78" cy="77.47" rx="1.55" ry="1.4"/><ellipse cx="255.85" cy="79.12" rx="1.55" ry="1.4"/><ellipse cx="262.21" cy="72.29" rx="1.55" ry="1.4"/><ellipse cx="260.26" cy="80.04" rx="1.55" ry="1.4"/><ellipse cx="259.44" cy="77.15" rx="1.55" ry="1.4"/><ellipse cx="265.65" cy="76.43" rx="1.55" ry="1.4"/><ellipse cx="264.5" cy="81.41" rx="1.55" ry="1.4"/><ellipse cx="256.75" cy="66.28" rx="1.55" ry="1.4"/><ellipse cx="262.75" cy="77.38" rx="1.55" ry="1.4"/><ellipse cx="265.98" cy="78.36" rx="1.55" ry="1.4"/><ellipse cx="267.43" cy="68.69" rx="1.55" ry="1.4"/><ellipse cx="255.66" cy="76.4" rx="1.55" ry="1.4"/><ellipse cx="279.04" cy="68.68" rx="1.55" ry="1.4"/><ellipse cx="269.15" cy="73.76" rx="1.55" ry="1.4"/><ellipse cx="277.42" cy="71.88" rx="1.55" ry="1.4"/><ellipse cx="276.33" cy="74.74" rx="1.55" ry="1.4"/><ellipse cx="280.91" cy="70.77" rx="1.55" ry="1.4"/><ellipse cx="276.77" cy="67.44" rx="1.55" ry="1.4"/><ellipse cx="269.5" cy="74.05" rx="1.55" ry="1.4"/><ellipse cx="277.27" cy="73.32" rx="1.55" ry="1.4"/><ellipse cx="271.89" cy="74.29" rx="1.55" ry="1.4"/><ellipse cx="279.36" cy="75.84" rx="1.55" ry="1.4"/><ellipse cx="269" cy="71.43" rx="1.55" ry="1.4"/><ellipse cx="272.79" cy="75.48" rx="1.55" ry="1.4"/><ellipse cx="277.34" cy="72.35" rx="1.55" ry="1.4"/><ellipse cx="270.61" cy="69.77" rx="1.55" ry="1.4"/><ellipse cx="289.89" cy="75.15" rx="1.55" ry="1.4"/><ellipse cx="290.55" cy="71.14" rx="1.55" ry="1.4"/><ellipse cx="291.02" cy="72.48" rx="1.55" ry="1.4"/><ellipse cx="292.85" cy="66.92" rx="1.55" ry="1.4"/><ellipse cx="286.87" cy="66.04" rx="1.55" ry="1.4"/><ellipse cx="283.37" cy="69.88" rx="1.55" ry="1.4"/><ellipse cx="284.9" cy="71" rx="1.55" ry="1.4"/><ellipse cx="286.57" cy="67.47" rx="1.55" ry="1.4"/><ellipse cx="282.24" cy="75.47" rx="1.55" ry="1.4"/><ellipse cx="290.7" cy="68.93" rx="1.55" ry="1.4"/><ellipse cx="282.35" cy="74.38" rx="1.55" ry="1.4"/><ellipse cx="282.28" cy="72.63" rx="1.55" ry="1.4"/><ellipse cx="293.59" cy="67.32" rx="1.55" ry="1.4"/><ellipse cx="291.96" cy="65" rx="1.55" ry="1.4"/><ellipse cx="297.75" cy="63.75" rx="1.55" ry="1.4"/><ellipse cx="298.88" cy="68.09" rx="1.55" ry="1.4"/><ellipse cx="305.15" cy="69.94" rx="1.55" ry="1.4"/><ellipse cx="302.47" cy="69.02" rx="1.55" ry="1.4"/><ellipse cx="297.89" cy="65.24" rx="1.55" ry="1.4"/><ellipse cx="300.27" cy="64.37" rx="1.55" ry="1.4"/><ellipse cx="305.53" cy="61.45" rx="1.55" ry="1.4"/><ellipse cx="294.47" cy="71.96" rx="1.55" ry="1.4"/><ellipse cx="307.3" cy="64.36" rx="1.55" ry="1.4"/><ellipse cx="301.79" cy="64.18" rx="1.55" ry="1.4"/><ellipse cx="323.3" cy="67.8" rx="1.55" ry="1.4"/><ellipse cx="331" cy="67.4" rx="1.55" ry="1.4"/><ellipse cx="338.5" cy="59.7" rx="1.55" ry="1.4"/><ellipse cx="360.8" cy="45.7" rx="1.55" ry="1.4"/><ellipse cx="366.9" cy="53" rx="1.55" ry="1.4"/><ellipse cx="385" cy="50.5" rx="1.55" ry="1.4"/><ellipse cx="386.4" cy="56" rx="1.55" ry="1.4"/><ellipse cx="389" cy="49.6" rx="1.55" ry="1.4"/><ellipse cx="393" cy="48.4" rx="1.55" ry="1.4"/><ellipse cx="395.4" cy="51" rx="1.55" ry="1.4"/><ellipse cx="403" cy="49.6" rx="1.55" ry="1.4"/><ellipse cx="408.4" cy="53.6" rx="1.55" ry="1.4"/><ellipse cx="308.1" cy="58.9" rx="1.55" ry="1.4"/><ellipse cx="311.7" cy="62.9" rx="1.55" ry="1.4"/><ellipse cx="314.9" cy="65.7" rx="1.55" ry="1.4"/><ellipse cx="306.9" cy="67.3" rx="1.55" ry="1.4"/><ellipse cx="302.8" cy="62.1" rx="1.55" ry="1.4"/><ellipse cx="299.7" cy="57.6" rx="1.55" ry="1.4"/></g>
<path d="M49.73 381.77 L50.16 360.36 L50.58 344.72 L51 332.44 L51.42 322.35 L51.84 313.79 L52.26 306.36 L52.68 299.81 L53.1 293.95 L53.52 288.65 L53.94 283.81 L54.37 279.37 L54.79 275.26 L55.21 271.44 L55.63 267.87 L56.05 264.52 L56.47 261.36 L56.89 258.37 L57.31 255.55 L57.73 252.86 L58.15 250.3 L58.57 247.85 L59 245.51 L59.42 243.27 L59.84 241.11 L60.26 239.04 L60.68 237.05 L61.1 235.12 L61.52 233.27 L61.94 231.47 L62.36 229.73 L62.78 228.05 L63.2 226.41 L63.63 224.83 L64.05 223.29 L64.47 221.79 L64.89 220.33 L65.31 218.92 L65.73 217.53 L66.15 216.19 L66.57 214.87 L66.99 213.59 L67.41 212.33 L67.84 211.11 L68.26 209.91 L68.68 208.73 L69.1 207.59 L69.52 206.46 L69.94 205.36 L70.36 204.28 L70.78 203.22 L71.2 202.18 L71.62 201.16 L72.04 200.16 L72.47 199.18 L72.89 198.22 L73.31 197.27 L73.73 196.34 L74.15 195.42 L74.57 194.52 L77.61 188.42 L80.66 182.92 L83.7 177.93 L86.74 173.35 L89.79 169.13 L92.83 165.2 L95.87 161.53 L98.92 158.09 L101.96 154.85 L105.01 151.78 L108.05 148.88 L111.09 146.11 L114.14 143.48 L117.18 140.96 L120.22 138.55 L123.27 136.24 L126.31 134.02 L129.35 131.88 L132.4 129.82 L135.44 127.84 L138.48 125.92 L141.53 124.06 L144.57 122.26 L147.61 120.52 L150.66 118.83 L153.7 117.19 L156.75 115.59 L159.79 114.04 L162.83 112.53 L165.88 111.06 L168.92 109.62 L171.96 108.22 L175.01 106.86 L178.05 105.53 L181.09 104.23 L184.14 102.95 L187.18 101.71 L190.22 100.49 L193.27 99.3 L196.31 98.13 L199.35 96.99 L202.4 95.87 L205.44 94.77 L208.49 93.7 L211.53 92.64 L214.57 91.61 L217.62 90.59 L220.66 89.59 L223.7 88.61 L226.75 87.64 L229.79 86.7 L232.83 85.77 L235.88 84.85 L238.92 83.95 L241.96 83.06 L245.01 82.19 L248.05 81.33 L251.09 80.49 L254.14 79.66 L257.18 78.84 L260.23 78.03 L263.27 77.23 L266.31 76.45 L269.36 75.68 L272.4 74.92 L275.44 74.16 L278.49 73.42 L281.53 72.69 L284.57 71.97 L287.62 71.26 L290.66 70.56 L293.7 69.87 L296.75 69.18 L299.79 68.51 L302.83 67.84 L305.88 67.18 L308.92 66.53 L311.97 65.89 L315.01 65.26 L318.05 64.63 L321.1 64.01 L324.14 63.4 L327.18 62.79 L330.23 62.19 L333.27 61.6 L336.31 61.02 L339.36 60.44 L342.4 59.87 L345.44 59.3 L348.49 58.74 L351.53 58.19 L354.57 57.64 L357.62 57.1 L360.66 56.56 L363.71 56.03 L366.75 55.51 L369.79 54.99 L372.84 54.47 L375.88 53.96 L378.92 53.46 L381.97 52.96 L385.01 52.46 L388.05 51.97 L391.1 51.49 L394.14 51.01 L397.18 50.53 L400.23 50.06 L403.27 49.59 L406.31 49.13 L409.36 48.67 L412.4 48.21 L415.45 47.76 L418.49 47.32 L421.53 46.87 L424.58 46.43 L427.62 46 L430.66 45.57 L433.71 45.14 L436.75 44.72" stroke="#e8152a" stroke-width="1.5" fill="none" stroke-linejoin="round"/>
<path d="M49.73 383.51 L50.16 362.11 L50.58 346.49 L51 334.24 L51.42 324.17 L51.84 315.64 L52.26 308.25 L52.68 301.73 L53.1 295.91 L53.52 290.65 L53.94 285.85 L54.37 281.44 L54.79 277.37 L55.21 273.59 L55.63 270.05 L56.05 266.74 L56.47 263.62 L56.89 260.67 L57.31 257.88 L57.73 255.23 L58.15 252.7 L58.57 250.3 L59 247.99 L59.42 245.79 L59.84 243.67 L60.26 241.64 L60.68 239.68 L61.1 237.79 L61.52 235.97 L61.94 234.21 L62.36 232.51 L62.78 230.87 L63.2 229.27 L63.63 227.72 L64.05 226.22 L64.47 224.76 L64.89 223.34 L65.31 221.95 L65.73 220.61 L66.15 219.3 L66.57 218.02 L66.99 216.77 L67.41 215.55 L67.84 214.36 L68.26 213.2 L68.68 212.06 L69.1 210.95 L69.52 209.86 L69.94 208.79 L70.36 207.75 L70.78 206.72 L71.2 205.72 L71.62 204.74 L72.04 203.77 L72.47 202.82 L72.89 201.89 L73.31 200.98 L73.73 200.08 L74.15 199.2 L74.57 198.33 L77.61 192.47 L80.66 187.22 L83.7 182.46 L86.74 178.11 L89.79 174.1 L92.83 170.39 L95.87 166.94 L98.92 163.7 L101.96 160.67 L105.01 157.8 L108.05 155.09 L111.09 152.52 L114.14 150.07 L117.18 147.74 L120.22 145.51 L123.27 143.38 L126.31 141.33 L129.35 139.36 L132.4 137.47 L135.44 135.65 L138.48 133.89 L141.53 132.19 L144.57 130.55 L147.61 128.95 L150.66 127.41 L153.7 125.92 L156.75 124.46 L159.79 123.05 L162.83 121.68 L165.88 120.34 L168.92 119.04 L171.96 117.77 L175.01 116.53 L178.05 115.33 L181.09 114.15 L184.14 113 L187.18 111.87 L190.22 110.77 L193.27 109.69 L196.31 108.64 L199.35 107.61 L202.4 106.6 L205.44 105.61 L208.49 104.63 L211.53 103.68 L214.57 102.75 L217.62 101.83 L220.66 100.93 L223.7 100.04 L226.75 99.17 L229.79 98.32 L232.83 97.48 L235.88 96.65 L238.92 95.84 L241.96 95.04 L245.01 94.25 L248.05 93.48 L251.09 92.72 L254.14 91.97 L257.18 91.23 L260.23 90.5 L263.27 89.78 L266.31 89.07 L269.36 88.37 L272.4 87.69 L275.44 87.01 L278.49 86.34 L281.53 85.68 L284.57 85.02 L287.62 84.38 L290.66 83.75 L293.7 83.12 L296.75 82.5 L299.79 81.89 L302.83 81.29 L305.88 80.69 L308.92 80.1 L311.97 79.52 L315.01 78.94 L318.05 78.38 L321.1 77.81 L324.14 77.26 L327.18 76.71 L330.23 76.17 L333.27 75.63 L336.31 75.1 L339.36 74.57 L342.4 74.05 L345.44 73.54 L348.49 73.03 L351.53 72.52 L354.57 72.02 L357.62 71.53 L360.66 71.04 L363.71 70.56 L366.75 70.08 L369.79 69.6 L372.84 69.13 L375.88 68.67 L378.92 68.21 L381.97 67.75 L385.01 67.3 L388.05 66.85 L391.1 66.41 L394.14 65.97 L397.18 65.53 L400.23 65.1 L403.27 64.67 L406.31 64.25 L409.36 63.83 L412.4 63.41 L415.45 63 L418.49 62.59 L421.53 62.18 L424.58 61.78 L427.62 61.38 L430.66 60.98 L433.71 60.59 L436.75 60.2" stroke="#000" stroke-width="1.6" fill="none" stroke-linejoin="round"/>
</g>
<path d="M100.44 28.05v4.2M100.44 301.6v-4.2M152.18 28.05v4.2M152.18 301.6v-4.2M203.92 28.05v4.2M203.92 301.6v-4.2M255.66 28.05v4.2M255.66 301.6v-4.2M307.4 28.05v4.2M307.4 301.6v-4.2M359.14 28.05v4.2M359.14 301.6v-4.2M410.88 28.05v4.2M410.88 301.6v-4.2M48.1 250.11h4.2M436.7 250.11h-4.2M48.1 201.07h4.2M436.7 201.07h-4.2M48.1 154.54h4.2M436.7 154.54h-4.2M48.1 110.29h4.2M436.7 110.29h-4.2M48.1 68.1h4.2M436.7 68.1h-4.2" stroke="#111" stroke-width="1.4" fill="none"/>
<rect x="48.1" y="28.05" width="388.6" height="273.55" fill="none" stroke="#0a0a0a" stroke-width="1.6"/>
<g font-size="15.6" fill="#1c1c1c" stroke="#1c1c1c" stroke-width="0.25">
<text transform="translate(48.7 322.7) scale(1.07 1)" text-anchor="middle">0</text>
<text transform="translate(100.44 322.7) scale(1.07 1)" text-anchor="middle">0.2</text>
<text transform="translate(152.18 322.7) scale(1.07 1)" text-anchor="middle">0.4</text>
<text transform="translate(203.92 322.7) scale(1.07 1)" text-anchor="middle">0.6</text>
<text transform="translate(255.66 322.7) scale(1.07 1)" text-anchor="middle">0.8</text>
<text transform="translate(307.4 322.7) scale(1.07 1)" text-anchor="middle">1</text>
<text transform="translate(359.14 322.7) scale(1.07 1)" text-anchor="middle">1.2</text>
<text transform="translate(410.88 322.7) scale(1.07 1)" text-anchor="middle">1.4</text>
<text transform="translate(42.4 307.85) scale(1.07 1)" text-anchor="end">34</text>
<text transform="translate(42.4 256.01) scale(1.07 1)" text-anchor="end">36</text>
<text transform="translate(42.4 206.97) scale(1.07 1)" text-anchor="end">38</text>
<text transform="translate(42.4 160.44) scale(1.07 1)" text-anchor="end">40</text>
<text transform="translate(42.4 116.19) scale(1.07 1)" text-anchor="end">42</text>
<text transform="translate(42.4 74) scale(1.07 1)" text-anchor="end">44</text>
<text transform="translate(42.4 33.68) scale(1.07 1)" text-anchor="end">46</text>
</g>
<text transform="translate(242.42 344.6) scale(1.155 1)" text-anchor="middle" font-size="16.3" fill="#1c1c1c" stroke="#1c1c1c" stroke-width="0.3">Redshift <tspan font-style="italic">z</tspan></text>
<text transform="translate(16.1 164.93) scale(1.09 1) rotate(-90)" text-anchor="middle" font-size="16.85" fill="#1c1c1c" stroke="#1c1c1c" stroke-width="0.3">Distance modulus</text>
<text transform="translate(243.12 22.8) scale(1.14 1)" text-anchor="middle" font-size="16" font-weight="bold" fill="#000"><tspan font-family="'Liberation Serif',serif" font-weight="normal">&#923;</tspan>CDM model</text>
<text transform="translate(4.3 19) scale(0.95 1)" font-size="22.4" font-weight="bold" fill="#000">A</text>
</g>
<g>
<path d="M598.99 28.05 V301.6 M650.73 28.05 V301.6 M702.47 28.05 V301.6 M754.21 28.05 V301.6 M805.95 28.05 V301.6 M857.69 28.05 V301.6 M909.43 28.05 V301.6 M546.95 250.11 H935.1 M546.95 201.07 H935.1 M546.95 154.54 H935.1 M546.95 110.29 H935.1 M546.95 68.1 H935.1" stroke="#d6d6d6" stroke-width="1.0" fill="none"/>
<clipPath id="c1"><rect x="546.95" y="28.05" width="388.15" height="274.45"/></clipPath>
<g clip-path="url(#c1)">
<path d="M551.43 291.18v5.54M554.16 264.26v9.64M552.83 274.95v9.7M553.94 268.57v6.32M554.93 262.18v9.58M553.22 268.81v9.56M553.08 272.75v5.27M551.41 289.12v8.72M552.17 282.51v9.81M553.07 273.26v8.97M553.77 267.22v5.36M554.25 265.51v6.78M552.61 276.97v7.67M551.39 298.5v6.78M552.25 281.59v6.78M554.66 260.01v5.12M551.96 287.92v4.82M552.88 278.52v6.3M554.74 266.02v6.86M551.23 300.04v7.91M553.46 272.74v9.67M554.82 268.33v5.15M552.02 288.07v6.6M553.26 266.26v9.17M554.66 262.94v8.9M551.65 296.67v5.39M553.16 270.33v8.16M554.04 269.36v5.11M553.73 262.95v9.5M552.95 275.7v6.09M551.93 287.55v7.96M553.03 271.06v7.14M552.58 275.19v7.38M552.98 277.46v5.84M552.55 279.75v6.61M554.38 262.05v6.07M554.11 268.55v7.89M552.35 274.55v6.89M553.35 267.49v7.75M552.2 279.16v7.51M552.89 273.67v8.14M552.5 275.95v9.78M553.68 268.31v7.45M552.57 276.34v7.54M552.91 276.26v7.91M553.92 265.91v7.49M552.73 274.71v6.84M554.65 248.87v5.81M551.83 288.47v7.62M554.01 260.68v5.89M552.77 277.06v8.14M552.79 278.96v9.37M553.59 267.83v8.79M553.16 272.32v8.79M552.74 279.35v5.82M551.14 297.02v5M551.49 292.09v5.85M553.88 264.48v7.58M553.17 269.85v5.31M553.83 269.16v5.2M562.43 219.76v9.35M560.31 231.22v6.27M555.42 256.38v4.94M557.41 240.94v7.13M559.61 222.6v7.87M556.84 243.45v6.86M562.5 222.49v5.09M562.35 223.75v6.97M561.6 215.53v4.8M558.68 229.98v8.17M561.54 222.75v9.16M556.03 255.32v4.87M557.41 243.96v7.4M558.6 232.43v8.67M560.77 220.61v7.56M558.78 246.24v5.37M556.07 244.7v4.93M557.68 237.76v6.82M557.53 239.72v4.83M557.34 237.63v8.72M556.3 247.48v7.19M558.23 237.31v6.1M558.49 231.79v8.38M561.03 227.43v5.57M561.19 230.45v7.07M559.07 232.78v7.03M558.59 234.63v5.07M561.05 226.41v8.4M561.9 223.21v7.94M560.25 228.06v5.43M561.22 226.22v6.58M562.3 220.05v5.92M555.33 248.62v9.33M561.81 228.55v7.88M557.16 245.76v9.32M558.7 232.78v8.29M561.19 223.08v8.38M560.58 229.22v5.98M556.15 246.3v8.85M560.12 226.94v6.14M555.55 248.33v8.73M557.78 246.24v8.2M561.32 221.2v6.96M558.33 236.26v5.39M559.67 226.35v7.41M560.66 226.04v7.64M561.38 226.91v7.85M560.91 228.91v4.83M555.07 253.11v5.84M558.27 240.53v7.33M558.61 234.95v8.74M555.44 250.6v5.76M559.21 234.58v8.96M559.73 227.54v9.32M561.44 234.76v4.99M562.32 218.14v7.96M556.01 255.28v6.67M556.8 247.2v5.24M560.13 223.61v5.58M556.04 246.07v6.42M556.75 241.63v4.65M559.47 228.19v7.88M556.33 243.75v6.81M561.08 225.51v6.14M561.66 217.79v8.65M555.27 253.06v9.53M559.14 226.84v6.8M561.2 227.37v6.02M562.58 219.33v7.47M557.14 241.13v6.56M564.52 210.9v8.85M571.84 195.24v5.74M572.18 198.77v4.95M564.82 213.57v4.47M567.34 205.34v5.17M570.21 198.61v4.76M571.52 190.04v8.79M564.51 211.06v7.78M569.65 195.15v7.08M571.13 189.69v8.87M568.46 197.92v7.34M564.48 207.18v7.76M563.14 223.13v5.34M565.69 213.81v5.81M571.13 194.91v7.35M563.24 210.94v8.47M562.86 219.89v5.85M566.51 204.8v6.69M563.43 220.66v5.9M564.32 210.78v5.79M563.01 213.6v7.27M568.2 201.77v8.82M569.98 192.83v8.97M567.19 204.94v7.16M564.16 220.55v4.56M566.2 204.96v5.8M568.88 195.35v7.47M572.51 189.64v8.67M573.04 191.58v5.16M565.27 214.89v8.45M562.88 217.05v8.79M571.37 194.3v4.89M572.36 182.64v8.65M567.52 203.63v7.37M570.75 194.55v8.37M584.32 172.8v7.44M581.01 177.98v7.57M584.41 166.94v8.24M573.43 190.59v8.12M576.63 185.66v6.34M576.71 184.02v6.21M574.68 180.94v8.91M584.9 177.13v5.6M573.51 188.38v6.08M581.82 173.52v4.88M574.04 195.24v5.96M577.79 183.64v6.98M578.53 178.49v5.28M575.47 178.67v6.24M579.86 180.4v7.34M580.04 173.03v6M577.22 188.64v7.92M582.65 171.81v6.84M575.19 190.08v5.96M575.61 188.37v7.79M577.71 181.31v7.02M578.01 179.13v6.43M575.79 185.61v5.03M585 173.53v9.11M583.83 171.18v5.26M574.5 184.05v6.22M577.9 186.06v7.08M576.13 183.69v8.76M578.95 175.54v5.62M576.69 179.13v4.75M579.61 177.57v7.78M585.05 175.64v8.78M578.07 182.3v6.41M581.53 176.18v9.1M580.82 173.41v5.83M582.85 173.42v8.5M573.92 192.11v4.3M582.75 174.92v7.5M598.3 151.09v8.28M593.86 164.02v5.55M589.77 163.28v8.11M594.75 160.58v7.24M595.27 156.21v5.88M594.55 162.11v4.56M587.96 169.93v7.33M598.65 147.57v6.04M598.41 150.6v6.73M591.55 160.97v5.03M593.73 160.69v4.46M586.57 166.31v4.83M598.84 149.96v7.42M596.65 151.08v5.01M594.29 158.88v5.51M595.9 160.19v6.97M588.49 164.59v5.41M590.03 160.36v6.31M589.24 169.61v6.25M593.76 152.66v7.71M587.24 165.82v6.03M597.64 157.43v5.68M592.03 156.53v8.98M591.81 156.34v5.21M587.41 167.68v7.13M594.91 161.88v7.12M596.62 156.08v5.71M594.2 157.33v7.68M589.19 160.6v7.93M596.21 154.99v6.35M587.94 172.76v5.94M596.76 159.33v4.85M593.57 160.75v8.33M589.8 157.9v8.93M592.69 157.77v5.51M594.19 162.11v5.73M589.4 164.21v7.39M597.01 162.53v7.78M591.5 162.25v8.06M597.6 158.58v7.81M596.86 155.5v7.38M587.34 168.46v7.14M594.41 156.27v4.27M590.07 165.61v6.74M595.81 152.48v7.48M593.07 158.33v5.62M591.97 165.11v5.59M597.64 154.42v6.35M586.8 165.83v6.9M593.26 165.73v4.59M603.23 146.42v7.51M599.45 152.11v7.51M608.74 137.39v5.45M606.26 140.11v5.64M610.56 146.11v4.95M606.73 149.72v6.33M603.35 146.3v8.5M611.73 138.51v5.99M600.49 150v8.63M599.67 151.99v5.26M608.47 138.7v5.12M603.79 150.59v6.5M603.67 146.74v5.21M610.33 139.02v4.84M603.22 148.21v7.38M610.49 140v5.7M607.32 140.58v7.4M603.25 151.25v5.24M599.76 152.8v5.51M602.16 144.52v8.21M611.52 143.2v6.96M604.23 143.12v4.85M601.06 151.47v6.24M602.84 147.19v4.68M610.63 143.86v4.58M601.12 148.28v7.03M609.05 140.78v5.02M600.73 153.19v5.48M611.43 143.77v4.5M605.85 146.45v4.88M599.55 145.68v6.43M611.03 144.31v4.97M603.62 144.59v5.7M608.45 140.39v6.44M605.76 147.16v5.29M600.19 150.72v5.02M600.36 146.52v4.76M600.92 152.49v8.39M601.08 155.02v6.01M599.67 151.08v6.41M599.6 152.4v7.59M611.26 134.05v7.51M600.17 146.19v7.31M605.57 152.96v8.47M600.52 148.78v6.65M601.77 152.12v5.15M608.86 139.5v6.85M611.12 144.05v6.44M605.07 146.37v7.86M599.06 150.5v5.58M624.85 129.55v7.16M612.54 137.71v4.06M616.96 138.36v6.22M618.9 138.48v5.77M623.46 131.68v4.68M622.57 129.78v7.72M619.81 132.12v7.8M617.08 135.95v5.37M622.72 136.88v7.39M623.17 130.86v8.33M623.2 131.21v6.74M621.21 127.72v5.88M613.19 132.05v7.04M615.79 134.98v6.07M618.21 139.64v6.96M618.46 131.14v7.48M622.7 133.43v5.77M615 135.35v7.01M620.52 135.27v6.5M616.77 131.09v7.08M621.96 130.19v5.73M614.46 138.83v7.4M618.09 130.44v4.66M613.26 146.07v6.51M614.67 140.82v6.68M624.02 136.49v4.14M616.01 135.25v7.72M623.48 130.8v6.68M618.71 142.08v4.88M612.43 139.67v7.98M622.18 129.44v7.65M612.6 135.05v8.57M622.62 138.2v7.23M612.04 144.65v6.8M620.64 127.45v7.52M614.07 139.27v5.85M616.36 138.07v6.03M624.25 126.98v5.76M618.21 132.52v5.62M620.43 137.42v8.72M621.51 132.09v6.78M613.35 140.3v6.5M622.77 129.94v5.88M623.75 133.06v6.09M613.94 137.36v5.14M618.99 143.27v8.62M615.59 136.17v7.63M621.51 125.81v6.51M612.29 136.57v6.77M618.55 127.52v7.88M635.12 121.51v5.68M634.36 124.41v5.76M626.26 131.72v6.61M635.63 123.95v6.6M627.94 121.53v7.9M635.31 122.05v7.9M631.29 122.84v8.38M626.94 125.76v7.1M634.35 124.64v6.45M635.31 119.07v4.72M633.9 130.76v8.42M637.34 117.38v8.2M628.17 126.01v6.93M627.91 125.86v7.68M626.76 128.79v8.03M631.84 132.1v5.99M630.03 122.58v6.54M629.47 125.52v8.35M630.81 124.2v5.1M628.41 127.62v5.25M624.92 128.99v8.46M630.96 115.63v8.35M628.43 129.77v4.56M630.68 126.35v6.87M636.87 122.54v7.39M627.18 128.55v7.3M633.11 124.68v6.88M633.2 125.05v7.11M628.5 130.32v7.1M630.95 124.27v6.96M637.4 124v4.84M629.29 130.72v5.28M634.07 124.87v5.75M635.73 117.59v8.37M629.53 124.52v6.46M637.66 116.86v6.79M632.96 120.75v8.55M631.34 125v5.04M634.11 122.02v5.47M630.34 132.72v5.26M634.07 119.14v8.16M628.41 126.13v7.32M649.79 110.73v4.75M644.81 120.53v4.5M640.92 121.56v4.91M643.45 113.59v8.29M649.37 117.73v5.98M648.23 119.71v8.38M644.06 120.95v7.69M642.34 115.56v8.92M642.66 112.07v6.41M650.49 112.79v5.87M639.25 120.41v6.73M649.29 115.34v8.59M648.89 119.27v8.47M640.7 122.53v5.96M642.31 115.13v6.53M645.16 116.02v7.57M648.17 112.4v5.99M650.09 112.76v5.42M650.62 119.15v5.27M641.43 114.83v6.65M640.28 117.05v5.33M644.1 122.31v7.75M645.01 123.41v7.46M646.29 115.42v8.75M639.19 121.32v7.34M646.16 116.91v6.07M649.71 115.52v4.82M649.63 113.54v5.77M650 116.39v8.18M649.73 120.56v7.36M650.22 108.99v4.5M638.42 122.86v6.87M649.64 111.57v7.34M641.3 118.22v8M641.94 123.39v7.68M643.73 115.61v8.61M650.15 116.6v6.37M645.62 113.21v7.34M655.29 112.92v4.77M655.57 110.01v6.95M662.44 103.9v6.52M661.37 113.74v4.84M652.51 110.39v5.69M653.95 112.47v7.4M655.54 112.43v5.14M653.53 113.78v5.76M658.02 108.44v5.9M653.62 111.48v7.35M658.17 105.73v5.05M662.84 108.12v4.88M661.71 110v5.23M652.01 108.8v7.85M653.41 109.55v4.78M656.07 107.03v7.04M659.09 105.55v6.19M655.73 113.6v6.02M653.98 107.91v5.61M655.19 111.63v6.46M653.37 111.41v4.46M661.88 110.12v5.84M659.75 115.46v6.13M656.05 108.51v4.86M659.79 106.95v6.5M657.45 110.73v6.15M657.54 111.36v4.58M668.42 99.26v5.32M669.98 99.03v6.26M676.41 104.33v7.4M673.81 98.59v8.31M674.37 100.25v7M665.27 105.14v4.88M670.19 102.49v7.21M668.41 102.33v7.99M664.82 105.75v4.28M668.78 98.69v5.39M664.62 109.4v4.18M666.69 103.87v6.88M674 99.54v4.76M672.54 99.91v8.68M672.7 105.02v5.95M664.69 105.29v7.17M665.79 105.14v5.65M663.94 108.33v5.56M664.93 109.56v4.71M664.97 104.43v7.9M676.08 97.26v5.55M675.23 102.93v5.2M666.31 106.04v6.08M666.95 102.55v4.83M689.03 97.56v5.25M683.97 99.61v5.77M681.37 97.8v8.57M682.63 99.17v8.34M680.12 102.39v5.16M684.15 91.01v8.26M685.98 97.14v4.06M683.27 102.54v7.4M687.22 99.67v8.65M678.06 100.93v5.66M684.41 98.12v4.89M689.4 92.66v7.96M678.53 105.62v7.79M683 92.77v8.78M684.75 101.04v5.29M680.97 99.95v4.52M689.08 94.08v4.1M682.88 104.1v5.98M682.79 97.49v4.57M701.21 82.79v6.98M689.74 97.56v4.43M700.77 93.31v6.15M691.2 96.81v7.1M694.44 93.27v4.63M695.85 95.55v7.98M695.7 95.85v8.28M690.04 95.35v6.12M693.64 88.25v6.76M694.15 93.27v6.25M701.9 92.27v9.02M701.4 95.28v8.43M697.09 90.32v8.94M701.61 88.89v5.52M700.71 95.61v5.29M694.39 98.4v4.08M691.05 95.47v4.4M697.39 88.13v8.74M693.71 93.8v6.97M689.66 98.18v6.59M715.16 92.73v5.32M715.01 79.08v8.47M709.41 86.8v4.21M710.47 91.12v7.73M711.12 83.55v7.34M714.45 83.09v7.9M708.52 89.37v8.2M710.01 88.84v7.19M705.4 87.06v6.69M705.61 83.84v6.22M709.22 86.1v7.65M705.43 88.21v5.03M702.86 85.18v5.78M707.24 92.98v7.93M712.17 86.19v7.79M706.05 89.06v7.56M713.63 84.27v4.09M711.56 91.59v7.63M710.92 85.95v8.42M714.01 91.74v6.91M703.42 88.93v5.78M704.78 91.46v6.39M727.17 83.94v7.2M727.14 79.91v5.5M716.42 88.22v4.78M725.42 82.01v9.36M715.6 87.13v6.82M717.15 86.74v6.09M716.82 87.85v6.2M719.21 89.46v4.65M720.43 87.55v5.25M727.19 91.31v5.1M721.05 85.08v8.13M717.01 82.87v8.33M718.93 89.66v8.79M715.49 84.44v8.98M715.77 89.62v4.53M720.98 88.44v5M722.03 87.26v7.75M718.64 94.01v6.41M733.25 76.64v8.76M729.68 87.03v6.78M736.86 83.21v6.83M733.42 78.2v6.43M730.43 80.74v5.78M734.77 81.73v7.65M731.04 83.58v5.3M732.12 80.98v8.04M729.95 79.86v7.22M738.44 87.17v7.99M731.95 73.86v8.37M740.7 79.38v7.51M733.58 76.01v7.63M730.35 80.88v7.7M737.46 73.69v7.19M737.83 80.43v5.02M739.74 81.93v7.05M730.04 81.56v6.81M751.49 70.84v8.25M752.4 76.31v7.54M745.21 77.33v7.64M747.15 80.72v5.29M749.29 71.74v4.73M744.45 80.89v8.22M752.55 80.31v7.73M750.32 83.23v5.48M752.36 79.86v4.61M747.09 79.23v4.76M747.99 84.16v5.12M743.79 73.68v8.1M745.34 77.98v6.89M750.71 70.63v5.89M753.68 81.75v8.61M743.24 78.37v5.64M741.93 78.33v6.34M742.15 74.99v7.54M759.84 68.37v6.38M764.46 78.1v4.43M757.12 72.73v6.97M760.38 73.62v4.68M760.88 76.5v6.07M765.05 73.87v6.6M756.33 74.57v5.79M754.4 74.56v9.12M760.76 68.29v8.01M758.81 75.56v8.97M757.99 73.17v7.95M764.2 73.47v5.91M763.05 78.8v5.23M755.3 62.28v8M761.3 74.07v6.62M764.53 74.39v7.94M765.98 64.66v8.06M754.21 73.49v5.81M777.59 65.17v7.03M767.7 70.78v5.97M775.97 68.87v6.02M774.88 72.02v5.44M779.46 68.16v5.23M775.32 64.83v5.21M768.05 70.35v7.4M775.82 69.6v7.46M770.44 70.01v8.56M777.91 73.05v5.57M767.55 68.39v6.07M771.34 71.92v7.12M775.89 69.05v6.6M769.16 65.85v7.84M788.44 71.61v7.08M789.1 68.16v5.96M789.57 68.72v7.53M791.4 63.86v6.13M785.42 62.38v7.32M781.92 66.47v6.81M783.45 68.47v5.08M785.12 64.02v6.91M780.79 71.89v7.17M789.25 65.99v5.88M780.9 71.28v6.2M780.83 69.72v5.81M792.14 63.11v8.42M790.51 62.63v4.73M796.3 60.53v6.45M797.43 63.71v8.76M803.7 67.25v5.38M801.02 64.69v8.65M796.44 62.49v5.51M798.82 61.29v6.15M804.08 58.02v6.86M793.02 68.59v6.74M805.85 60.61v7.5M800.34 60.08v8.2M821.85 64.5v6.6M829.55 62.4v10M837.05 56.4v6.6M859.35 39.2v13M865.45 47.3v11.4M883.55 47v7M884.95 52.1v7.8M887.55 45.9v7.4M891.55 45.4v6M893.95 48.2v5.6M901.55 46.1v7M906.95 49.9v7.4M806.65 55.1v7.6M810.25 59.1v7.6M813.45 62.3v6.8M805.45 64.1v6.4M801.35 58.7v6.8M798.25 52.7v9.8" stroke="#0a0af0" stroke-width="1.45" fill="none"/>
<g fill="#0a0af0"><ellipse cx="551.43" cy="293.95" rx="1.55" ry="1.4"/><ellipse cx="554.16" cy="269.08" rx="1.55" ry="1.4"/><ellipse cx="552.83" cy="279.8" rx="1.55" ry="1.4"/><ellipse cx="553.94" cy="271.72" rx="1.55" ry="1.4"/><ellipse cx="554.93" cy="266.97" rx="1.55" ry="1.4"/><ellipse cx="553.22" cy="273.59" rx="1.55" ry="1.4"/><ellipse cx="553.08" cy="275.38" rx="1.55" ry="1.4"/><ellipse cx="551.41" cy="293.48" rx="1.55" ry="1.4"/><ellipse cx="552.17" cy="287.42" rx="1.55" ry="1.4"/><ellipse cx="553.07" cy="277.74" rx="1.55" ry="1.4"/><ellipse cx="553.77" cy="269.9" rx="1.55" ry="1.4"/><ellipse cx="554.25" cy="268.9" rx="1.55" ry="1.4"/><ellipse cx="552.61" cy="280.8" rx="1.55" ry="1.4"/><ellipse cx="551.39" cy="301.89" rx="1.55" ry="1.4"/><ellipse cx="552.25" cy="284.98" rx="1.55" ry="1.4"/><ellipse cx="554.66" cy="262.57" rx="1.55" ry="1.4"/><ellipse cx="551.96" cy="290.33" rx="1.55" ry="1.4"/><ellipse cx="552.88" cy="281.67" rx="1.55" ry="1.4"/><ellipse cx="554.74" cy="269.45" rx="1.55" ry="1.4"/><ellipse cx="551.23" cy="304" rx="1.55" ry="1.4"/><ellipse cx="553.46" cy="277.58" rx="1.55" ry="1.4"/><ellipse cx="554.82" cy="270.91" rx="1.55" ry="1.4"/><ellipse cx="552.02" cy="291.36" rx="1.55" ry="1.4"/><ellipse cx="553.26" cy="270.84" rx="1.55" ry="1.4"/><ellipse cx="554.66" cy="267.39" rx="1.55" ry="1.4"/><ellipse cx="551.65" cy="299.36" rx="1.55" ry="1.4"/><ellipse cx="553.16" cy="274.41" rx="1.55" ry="1.4"/><ellipse cx="554.04" cy="271.91" rx="1.55" ry="1.4"/><ellipse cx="553.73" cy="267.7" rx="1.55" ry="1.4"/><ellipse cx="552.95" cy="278.74" rx="1.55" ry="1.4"/><ellipse cx="551.93" cy="291.53" rx="1.55" ry="1.4"/><ellipse cx="553.03" cy="274.63" rx="1.55" ry="1.4"/><ellipse cx="552.58" cy="278.88" rx="1.55" ry="1.4"/><ellipse cx="552.98" cy="280.39" rx="1.55" ry="1.4"/><ellipse cx="552.55" cy="283.05" rx="1.55" ry="1.4"/><ellipse cx="554.38" cy="265.08" rx="1.55" ry="1.4"/><ellipse cx="554.11" cy="272.49" rx="1.55" ry="1.4"/><ellipse cx="552.35" cy="278" rx="1.55" ry="1.4"/><ellipse cx="553.35" cy="271.37" rx="1.55" ry="1.4"/><ellipse cx="552.2" cy="282.91" rx="1.55" ry="1.4"/><ellipse cx="552.89" cy="277.74" rx="1.55" ry="1.4"/><ellipse cx="552.5" cy="280.85" rx="1.55" ry="1.4"/><ellipse cx="553.68" cy="272.03" rx="1.55" ry="1.4"/><ellipse cx="552.57" cy="280.11" rx="1.55" ry="1.4"/><ellipse cx="552.91" cy="280.21" rx="1.55" ry="1.4"/><ellipse cx="553.92" cy="269.65" rx="1.55" ry="1.4"/><ellipse cx="552.73" cy="278.13" rx="1.55" ry="1.4"/><ellipse cx="554.65" cy="251.77" rx="1.55" ry="1.4"/><ellipse cx="551.83" cy="292.28" rx="1.55" ry="1.4"/><ellipse cx="554.01" cy="263.63" rx="1.55" ry="1.4"/><ellipse cx="552.77" cy="281.13" rx="1.55" ry="1.4"/><ellipse cx="552.79" cy="283.65" rx="1.55" ry="1.4"/><ellipse cx="553.59" cy="272.23" rx="1.55" ry="1.4"/><ellipse cx="553.16" cy="276.72" rx="1.55" ry="1.4"/><ellipse cx="552.74" cy="282.26" rx="1.55" ry="1.4"/><ellipse cx="551.14" cy="299.52" rx="1.55" ry="1.4"/><ellipse cx="551.49" cy="295.01" rx="1.55" ry="1.4"/><ellipse cx="553.88" cy="268.27" rx="1.55" ry="1.4"/><ellipse cx="553.17" cy="272.51" rx="1.55" ry="1.4"/><ellipse cx="553.83" cy="271.76" rx="1.55" ry="1.4"/><ellipse cx="562.43" cy="224.44" rx="1.55" ry="1.4"/><ellipse cx="560.31" cy="234.35" rx="1.55" ry="1.4"/><ellipse cx="555.42" cy="258.85" rx="1.55" ry="1.4"/><ellipse cx="557.41" cy="244.51" rx="1.55" ry="1.4"/><ellipse cx="559.61" cy="226.53" rx="1.55" ry="1.4"/><ellipse cx="556.84" cy="246.88" rx="1.55" ry="1.4"/><ellipse cx="562.5" cy="225.04" rx="1.55" ry="1.4"/><ellipse cx="562.35" cy="227.23" rx="1.55" ry="1.4"/><ellipse cx="561.6" cy="217.93" rx="1.55" ry="1.4"/><ellipse cx="558.68" cy="234.07" rx="1.55" ry="1.4"/><ellipse cx="561.54" cy="227.33" rx="1.55" ry="1.4"/><ellipse cx="556.03" cy="257.75" rx="1.55" ry="1.4"/><ellipse cx="557.41" cy="247.66" rx="1.55" ry="1.4"/><ellipse cx="558.6" cy="236.76" rx="1.55" ry="1.4"/><ellipse cx="560.77" cy="224.39" rx="1.55" ry="1.4"/><ellipse cx="558.78" cy="248.92" rx="1.55" ry="1.4"/><ellipse cx="556.07" cy="247.16" rx="1.55" ry="1.4"/><ellipse cx="557.68" cy="241.17" rx="1.55" ry="1.4"/><ellipse cx="557.53" cy="242.14" rx="1.55" ry="1.4"/><ellipse cx="557.34" cy="241.99" rx="1.55" ry="1.4"/><ellipse cx="556.3" cy="251.07" rx="1.55" ry="1.4"/><ellipse cx="558.23" cy="240.36" rx="1.55" ry="1.4"/><ellipse cx="558.49" cy="235.97" rx="1.55" ry="1.4"/><ellipse cx="561.03" cy="230.21" rx="1.55" ry="1.4"/><ellipse cx="561.19" cy="233.99" rx="1.55" ry="1.4"/><ellipse cx="559.07" cy="236.29" rx="1.55" ry="1.4"/><ellipse cx="558.59" cy="237.16" rx="1.55" ry="1.4"/><ellipse cx="561.05" cy="230.61" rx="1.55" ry="1.4"/><ellipse cx="561.9" cy="227.18" rx="1.55" ry="1.4"/><ellipse cx="560.25" cy="230.78" rx="1.55" ry="1.4"/><ellipse cx="561.22" cy="229.51" rx="1.55" ry="1.4"/><ellipse cx="562.3" cy="223.01" rx="1.55" ry="1.4"/><ellipse cx="555.33" cy="253.29" rx="1.55" ry="1.4"/><ellipse cx="561.81" cy="232.49" rx="1.55" ry="1.4"/><ellipse cx="557.16" cy="250.42" rx="1.55" ry="1.4"/><ellipse cx="558.7" cy="236.92" rx="1.55" ry="1.4"/><ellipse cx="561.19" cy="227.27" rx="1.55" ry="1.4"/><ellipse cx="560.58" cy="232.21" rx="1.55" ry="1.4"/><ellipse cx="556.15" cy="250.73" rx="1.55" ry="1.4"/><ellipse cx="560.12" cy="230.01" rx="1.55" ry="1.4"/><ellipse cx="555.55" cy="252.7" rx="1.55" ry="1.4"/><ellipse cx="557.78" cy="250.34" rx="1.55" ry="1.4"/><ellipse cx="561.32" cy="224.68" rx="1.55" ry="1.4"/><ellipse cx="558.33" cy="238.95" rx="1.55" ry="1.4"/><ellipse cx="559.67" cy="230.06" rx="1.55" ry="1.4"/><ellipse cx="560.66" cy="229.86" rx="1.55" ry="1.4"/><ellipse cx="561.38" cy="230.83" rx="1.55" ry="1.4"/><ellipse cx="560.91" cy="231.32" rx="1.55" ry="1.4"/><ellipse cx="555.07" cy="256.03" rx="1.55" ry="1.4"/><ellipse cx="558.27" cy="244.2" rx="1.55" ry="1.4"/><ellipse cx="558.61" cy="239.32" rx="1.55" ry="1.4"/><ellipse cx="555.44" cy="253.47" rx="1.55" ry="1.4"/><ellipse cx="559.21" cy="239.06" rx="1.55" ry="1.4"/><ellipse cx="559.73" cy="232.2" rx="1.55" ry="1.4"/><ellipse cx="561.44" cy="237.25" rx="1.55" ry="1.4"/><ellipse cx="562.32" cy="222.12" rx="1.55" ry="1.4"/><ellipse cx="556.01" cy="258.61" rx="1.55" ry="1.4"/><ellipse cx="556.8" cy="249.81" rx="1.55" ry="1.4"/><ellipse cx="560.13" cy="226.4" rx="1.55" ry="1.4"/><ellipse cx="556.04" cy="249.28" rx="1.55" ry="1.4"/><ellipse cx="556.75" cy="243.95" rx="1.55" ry="1.4"/><ellipse cx="559.47" cy="232.13" rx="1.55" ry="1.4"/><ellipse cx="556.33" cy="247.15" rx="1.55" ry="1.4"/><ellipse cx="561.08" cy="228.58" rx="1.55" ry="1.4"/><ellipse cx="561.66" cy="222.12" rx="1.55" ry="1.4"/><ellipse cx="555.27" cy="257.82" rx="1.55" ry="1.4"/><ellipse cx="559.14" cy="230.25" rx="1.55" ry="1.4"/><ellipse cx="561.2" cy="230.38" rx="1.55" ry="1.4"/><ellipse cx="562.58" cy="223.06" rx="1.55" ry="1.4"/><ellipse cx="557.14" cy="244.41" rx="1.55" ry="1.4"/><ellipse cx="564.52" cy="215.32" rx="1.55" ry="1.4"/><ellipse cx="571.84" cy="198.11" rx="1.55" ry="1.4"/><ellipse cx="572.18" cy="201.24" rx="1.55" ry="1.4"/><ellipse cx="564.82" cy="215.81" rx="1.55" ry="1.4"/><ellipse cx="567.34" cy="207.92" rx="1.55" ry="1.4"/><ellipse cx="570.21" cy="200.99" rx="1.55" ry="1.4"/><ellipse cx="571.52" cy="194.43" rx="1.55" ry="1.4"/><ellipse cx="564.51" cy="214.95" rx="1.55" ry="1.4"/><ellipse cx="569.65" cy="198.69" rx="1.55" ry="1.4"/><ellipse cx="571.13" cy="194.12" rx="1.55" ry="1.4"/><ellipse cx="568.46" cy="201.59" rx="1.55" ry="1.4"/><ellipse cx="564.48" cy="211.06" rx="1.55" ry="1.4"/><ellipse cx="563.14" cy="225.8" rx="1.55" ry="1.4"/><ellipse cx="565.69" cy="216.71" rx="1.55" ry="1.4"/><ellipse cx="571.13" cy="198.58" rx="1.55" ry="1.4"/><ellipse cx="563.24" cy="215.18" rx="1.55" ry="1.4"/><ellipse cx="562.86" cy="222.82" rx="1.55" ry="1.4"/><ellipse cx="566.51" cy="208.14" rx="1.55" ry="1.4"/><ellipse cx="563.43" cy="223.61" rx="1.55" ry="1.4"/><ellipse cx="564.32" cy="213.68" rx="1.55" ry="1.4"/><ellipse cx="563.01" cy="217.24" rx="1.55" ry="1.4"/><ellipse cx="568.2" cy="206.18" rx="1.55" ry="1.4"/><ellipse cx="569.98" cy="197.31" rx="1.55" ry="1.4"/><ellipse cx="567.19" cy="208.52" rx="1.55" ry="1.4"/><ellipse cx="564.16" cy="222.83" rx="1.55" ry="1.4"/><ellipse cx="566.2" cy="207.86" rx="1.55" ry="1.4"/><ellipse cx="568.88" cy="199.08" rx="1.55" ry="1.4"/><ellipse cx="572.51" cy="193.98" rx="1.55" ry="1.4"/><ellipse cx="573.04" cy="194.16" rx="1.55" ry="1.4"/><ellipse cx="565.27" cy="219.11" rx="1.55" ry="1.4"/><ellipse cx="562.88" cy="221.45" rx="1.55" ry="1.4"/><ellipse cx="571.37" cy="196.75" rx="1.55" ry="1.4"/><ellipse cx="572.36" cy="186.97" rx="1.55" ry="1.4"/><ellipse cx="567.52" cy="207.31" rx="1.55" ry="1.4"/><ellipse cx="570.75" cy="198.73" rx="1.55" ry="1.4"/><ellipse cx="584.32" cy="176.52" rx="1.55" ry="1.4"/><ellipse cx="581.01" cy="181.77" rx="1.55" ry="1.4"/><ellipse cx="584.41" cy="171.06" rx="1.55" ry="1.4"/><ellipse cx="573.43" cy="194.65" rx="1.55" ry="1.4"/><ellipse cx="576.63" cy="188.83" rx="1.55" ry="1.4"/><ellipse cx="576.71" cy="187.12" rx="1.55" ry="1.4"/><ellipse cx="574.68" cy="185.39" rx="1.55" ry="1.4"/><ellipse cx="584.9" cy="179.93" rx="1.55" ry="1.4"/><ellipse cx="573.51" cy="191.42" rx="1.55" ry="1.4"/><ellipse cx="581.82" cy="175.96" rx="1.55" ry="1.4"/><ellipse cx="574.04" cy="198.22" rx="1.55" ry="1.4"/><ellipse cx="577.79" cy="187.13" rx="1.55" ry="1.4"/><ellipse cx="578.53" cy="181.13" rx="1.55" ry="1.4"/><ellipse cx="575.47" cy="181.79" rx="1.55" ry="1.4"/><ellipse cx="579.86" cy="184.07" rx="1.55" ry="1.4"/><ellipse cx="580.04" cy="176.03" rx="1.55" ry="1.4"/><ellipse cx="577.22" cy="192.6" rx="1.55" ry="1.4"/><ellipse cx="582.65" cy="175.23" rx="1.55" ry="1.4"/><ellipse cx="575.19" cy="193.05" rx="1.55" ry="1.4"/><ellipse cx="575.61" cy="192.27" rx="1.55" ry="1.4"/><ellipse cx="577.71" cy="184.82" rx="1.55" ry="1.4"/><ellipse cx="578.01" cy="182.35" rx="1.55" ry="1.4"/><ellipse cx="575.79" cy="188.13" rx="1.55" ry="1.4"/><ellipse cx="585" cy="178.09" rx="1.55" ry="1.4"/><ellipse cx="583.83" cy="173.81" rx="1.55" ry="1.4"/><ellipse cx="574.5" cy="187.16" rx="1.55" ry="1.4"/><ellipse cx="577.9" cy="189.6" rx="1.55" ry="1.4"/><ellipse cx="576.13" cy="188.07" rx="1.55" ry="1.4"/><ellipse cx="578.95" cy="178.35" rx="1.55" ry="1.4"/><ellipse cx="576.69" cy="181.5" rx="1.55" ry="1.4"/><ellipse cx="579.61" cy="181.46" rx="1.55" ry="1.4"/><ellipse cx="585.05" cy="180.03" rx="1.55" ry="1.4"/><ellipse cx="578.07" cy="185.5" rx="1.55" ry="1.4"/><ellipse cx="581.53" cy="180.74" rx="1.55" ry="1.4"/><ellipse cx="580.82" cy="176.32" rx="1.55" ry="1.4"/><ellipse cx="582.85" cy="177.67" rx="1.55" ry="1.4"/><ellipse cx="573.92" cy="194.26" rx="1.55" ry="1.4"/><ellipse cx="582.75" cy="178.67" rx="1.55" ry="1.4"/><ellipse cx="598.3" cy="155.23" rx="1.55" ry="1.4"/><ellipse cx="593.86" cy="166.79" rx="1.55" ry="1.4"/><ellipse cx="589.77" cy="167.33" rx="1.55" ry="1.4"/><ellipse cx="594.75" cy="164.2" rx="1.55" ry="1.4"/><ellipse cx="595.27" cy="159.15" rx="1.55" ry="1.4"/><ellipse cx="594.55" cy="164.39" rx="1.55" ry="1.4"/><ellipse cx="587.96" cy="173.6" rx="1.55" ry="1.4"/><ellipse cx="598.65" cy="150.59" rx="1.55" ry="1.4"/><ellipse cx="598.41" cy="153.97" rx="1.55" ry="1.4"/><ellipse cx="591.55" cy="163.48" rx="1.55" ry="1.4"/><ellipse cx="593.73" cy="162.92" rx="1.55" ry="1.4"/><ellipse cx="586.57" cy="168.73" rx="1.55" ry="1.4"/><ellipse cx="598.84" cy="153.67" rx="1.55" ry="1.4"/><ellipse cx="596.65" cy="153.59" rx="1.55" ry="1.4"/><ellipse cx="594.29" cy="161.64" rx="1.55" ry="1.4"/><ellipse cx="595.9" cy="163.68" rx="1.55" ry="1.4"/><ellipse cx="588.49" cy="167.29" rx="1.55" ry="1.4"/><ellipse cx="590.03" cy="163.52" rx="1.55" ry="1.4"/><ellipse cx="589.24" cy="172.73" rx="1.55" ry="1.4"/><ellipse cx="593.76" cy="156.51" rx="1.55" ry="1.4"/><ellipse cx="587.24" cy="168.83" rx="1.55" ry="1.4"/><ellipse cx="597.64" cy="160.27" rx="1.55" ry="1.4"/><ellipse cx="592.03" cy="161.02" rx="1.55" ry="1.4"/><ellipse cx="591.81" cy="158.94" rx="1.55" ry="1.4"/><ellipse cx="587.41" cy="171.25" rx="1.55" ry="1.4"/><ellipse cx="594.91" cy="165.44" rx="1.55" ry="1.4"/><ellipse cx="596.62" cy="158.93" rx="1.55" ry="1.4"/><ellipse cx="594.2" cy="161.18" rx="1.55" ry="1.4"/><ellipse cx="589.19" cy="164.56" rx="1.55" ry="1.4"/><ellipse cx="596.21" cy="158.16" rx="1.55" ry="1.4"/><ellipse cx="587.94" cy="175.74" rx="1.55" ry="1.4"/><ellipse cx="596.76" cy="161.75" rx="1.55" ry="1.4"/><ellipse cx="593.57" cy="164.92" rx="1.55" ry="1.4"/><ellipse cx="589.8" cy="162.37" rx="1.55" ry="1.4"/><ellipse cx="592.69" cy="160.53" rx="1.55" ry="1.4"/><ellipse cx="594.19" cy="164.98" rx="1.55" ry="1.4"/><ellipse cx="589.4" cy="167.9" rx="1.55" ry="1.4"/><ellipse cx="597.01" cy="166.42" rx="1.55" ry="1.4"/><ellipse cx="591.5" cy="166.28" rx="1.55" ry="1.4"/><ellipse cx="597.6" cy="162.49" rx="1.55" ry="1.4"/><ellipse cx="596.86" cy="159.19" rx="1.55" ry="1.4"/><ellipse cx="587.34" cy="172.03" rx="1.55" ry="1.4"/><ellipse cx="594.41" cy="158.4" rx="1.55" ry="1.4"/><ellipse cx="590.07" cy="168.98" rx="1.55" ry="1.4"/><ellipse cx="595.81" cy="156.22" rx="1.55" ry="1.4"/><ellipse cx="593.07" cy="161.14" rx="1.55" ry="1.4"/><ellipse cx="591.97" cy="167.9" rx="1.55" ry="1.4"/><ellipse cx="597.64" cy="157.59" rx="1.55" ry="1.4"/><ellipse cx="586.8" cy="169.29" rx="1.55" ry="1.4"/><ellipse cx="593.26" cy="168.02" rx="1.55" ry="1.4"/><ellipse cx="603.23" cy="150.18" rx="1.55" ry="1.4"/><ellipse cx="599.45" cy="155.86" rx="1.55" ry="1.4"/><ellipse cx="608.74" cy="140.11" rx="1.55" ry="1.4"/><ellipse cx="606.26" cy="142.93" rx="1.55" ry="1.4"/><ellipse cx="610.56" cy="148.59" rx="1.55" ry="1.4"/><ellipse cx="606.73" cy="152.88" rx="1.55" ry="1.4"/><ellipse cx="603.35" cy="150.55" rx="1.55" ry="1.4"/><ellipse cx="611.73" cy="141.5" rx="1.55" ry="1.4"/><ellipse cx="600.49" cy="154.31" rx="1.55" ry="1.4"/><ellipse cx="599.67" cy="154.61" rx="1.55" ry="1.4"/><ellipse cx="608.47" cy="141.26" rx="1.55" ry="1.4"/><ellipse cx="603.79" cy="153.84" rx="1.55" ry="1.4"/><ellipse cx="603.67" cy="149.34" rx="1.55" ry="1.4"/><ellipse cx="610.33" cy="141.44" rx="1.55" ry="1.4"/><ellipse cx="603.22" cy="151.9" rx="1.55" ry="1.4"/><ellipse cx="610.49" cy="142.85" rx="1.55" ry="1.4"/><ellipse cx="607.32" cy="144.29" rx="1.55" ry="1.4"/><ellipse cx="603.25" cy="153.87" rx="1.55" ry="1.4"/><ellipse cx="599.76" cy="155.56" rx="1.55" ry="1.4"/><ellipse cx="602.16" cy="148.63" rx="1.55" ry="1.4"/><ellipse cx="611.52" cy="146.68" rx="1.55" ry="1.4"/><ellipse cx="604.23" cy="145.55" rx="1.55" ry="1.4"/><ellipse cx="601.06" cy="154.59" rx="1.55" ry="1.4"/><ellipse cx="602.84" cy="149.53" rx="1.55" ry="1.4"/><ellipse cx="610.63" cy="146.15" rx="1.55" ry="1.4"/><ellipse cx="601.12" cy="151.79" rx="1.55" ry="1.4"/><ellipse cx="609.05" cy="143.29" rx="1.55" ry="1.4"/><ellipse cx="600.73" cy="155.93" rx="1.55" ry="1.4"/><ellipse cx="611.43" cy="146.02" rx="1.55" ry="1.4"/><ellipse cx="605.85" cy="148.89" rx="1.55" ry="1.4"/><ellipse cx="599.55" cy="148.89" rx="1.55" ry="1.4"/><ellipse cx="611.03" cy="146.8" rx="1.55" ry="1.4"/><ellipse cx="603.62" cy="147.44" rx="1.55" ry="1.4"/><ellipse cx="608.45" cy="143.61" rx="1.55" ry="1.4"/><ellipse cx="605.76" cy="149.8" rx="1.55" ry="1.4"/><ellipse cx="600.19" cy="153.23" rx="1.55" ry="1.4"/><ellipse cx="600.36" cy="148.9" rx="1.55" ry="1.4"/><ellipse cx="600.92" cy="156.68" rx="1.55" ry="1.4"/><ellipse cx="601.08" cy="158.02" rx="1.55" ry="1.4"/><ellipse cx="599.67" cy="154.29" rx="1.55" ry="1.4"/><ellipse cx="599.6" cy="156.19" rx="1.55" ry="1.4"/><ellipse cx="611.26" cy="137.81" rx="1.55" ry="1.4"/><ellipse cx="600.17" cy="149.85" rx="1.55" ry="1.4"/><ellipse cx="605.57" cy="157.2" rx="1.55" ry="1.4"/><ellipse cx="600.52" cy="152.11" rx="1.55" ry="1.4"/><ellipse cx="601.77" cy="154.69" rx="1.55" ry="1.4"/><ellipse cx="608.86" cy="142.92" rx="1.55" ry="1.4"/><ellipse cx="611.12" cy="147.27" rx="1.55" ry="1.4"/><ellipse cx="605.07" cy="150.3" rx="1.55" ry="1.4"/><ellipse cx="599.06" cy="153.29" rx="1.55" ry="1.4"/><ellipse cx="624.85" cy="133.13" rx="1.55" ry="1.4"/><ellipse cx="612.54" cy="139.74" rx="1.55" ry="1.4"/><ellipse cx="616.96" cy="141.47" rx="1.55" ry="1.4"/><ellipse cx="618.9" cy="141.36" rx="1.55" ry="1.4"/><ellipse cx="623.46" cy="134.02" rx="1.55" ry="1.4"/><ellipse cx="622.57" cy="133.64" rx="1.55" ry="1.4"/><ellipse cx="619.81" cy="136.02" rx="1.55" ry="1.4"/><ellipse cx="617.08" cy="138.63" rx="1.55" ry="1.4"/><ellipse cx="622.72" cy="140.57" rx="1.55" ry="1.4"/><ellipse cx="623.17" cy="135.03" rx="1.55" ry="1.4"/><ellipse cx="623.2" cy="134.58" rx="1.55" ry="1.4"/><ellipse cx="621.21" cy="130.66" rx="1.55" ry="1.4"/><ellipse cx="613.19" cy="135.57" rx="1.55" ry="1.4"/><ellipse cx="615.79" cy="138.02" rx="1.55" ry="1.4"/><ellipse cx="618.21" cy="143.12" rx="1.55" ry="1.4"/><ellipse cx="618.46" cy="134.88" rx="1.55" ry="1.4"/><ellipse cx="622.7" cy="136.32" rx="1.55" ry="1.4"/><ellipse cx="615" cy="138.85" rx="1.55" ry="1.4"/><ellipse cx="620.52" cy="138.53" rx="1.55" ry="1.4"/><ellipse cx="616.77" cy="134.63" rx="1.55" ry="1.4"/><ellipse cx="621.96" cy="133.06" rx="1.55" ry="1.4"/><ellipse cx="614.46" cy="142.53" rx="1.55" ry="1.4"/><ellipse cx="618.09" cy="132.77" rx="1.55" ry="1.4"/><ellipse cx="613.26" cy="149.32" rx="1.55" ry="1.4"/><ellipse cx="614.67" cy="144.16" rx="1.55" ry="1.4"/><ellipse cx="624.02" cy="138.56" rx="1.55" ry="1.4"/><ellipse cx="616.01" cy="139.11" rx="1.55" ry="1.4"/><ellipse cx="623.48" cy="134.14" rx="1.55" ry="1.4"/><ellipse cx="618.71" cy="144.52" rx="1.55" ry="1.4"/><ellipse cx="612.43" cy="143.66" rx="1.55" ry="1.4"/><ellipse cx="622.18" cy="133.26" rx="1.55" ry="1.4"/><ellipse cx="612.6" cy="139.33" rx="1.55" ry="1.4"/><ellipse cx="622.62" cy="141.82" rx="1.55" ry="1.4"/><ellipse cx="612.04" cy="148.05" rx="1.55" ry="1.4"/><ellipse cx="620.64" cy="131.21" rx="1.55" ry="1.4"/><ellipse cx="614.07" cy="142.2" rx="1.55" ry="1.4"/><ellipse cx="616.36" cy="141.08" rx="1.55" ry="1.4"/><ellipse cx="624.25" cy="129.86" rx="1.55" ry="1.4"/><ellipse cx="618.21" cy="135.32" rx="1.55" ry="1.4"/><ellipse cx="620.43" cy="141.78" rx="1.55" ry="1.4"/><ellipse cx="621.51" cy="135.48" rx="1.55" ry="1.4"/><ellipse cx="613.35" cy="143.55" rx="1.55" ry="1.4"/><ellipse cx="622.77" cy="132.88" rx="1.55" ry="1.4"/><ellipse cx="623.75" cy="136.11" rx="1.55" ry="1.4"/><ellipse cx="613.94" cy="139.93" rx="1.55" ry="1.4"/><ellipse cx="618.99" cy="147.58" rx="1.55" ry="1.4"/><ellipse cx="615.59" cy="139.99" rx="1.55" ry="1.4"/><ellipse cx="621.51" cy="129.07" rx="1.55" ry="1.4"/><ellipse cx="612.29" cy="139.96" rx="1.55" ry="1.4"/><ellipse cx="618.55" cy="131.46" rx="1.55" ry="1.4"/><ellipse cx="635.12" cy="124.35" rx="1.55" ry="1.4"/><ellipse cx="634.36" cy="127.3" rx="1.55" ry="1.4"/><ellipse cx="626.26" cy="135.02" rx="1.55" ry="1.4"/><ellipse cx="635.63" cy="127.26" rx="1.55" ry="1.4"/><ellipse cx="627.94" cy="125.47" rx="1.55" ry="1.4"/><ellipse cx="635.31" cy="126" rx="1.55" ry="1.4"/><ellipse cx="631.29" cy="127.03" rx="1.55" ry="1.4"/><ellipse cx="626.94" cy="129.31" rx="1.55" ry="1.4"/><ellipse cx="634.35" cy="127.86" rx="1.55" ry="1.4"/><ellipse cx="635.31" cy="121.43" rx="1.55" ry="1.4"/><ellipse cx="633.9" cy="134.97" rx="1.55" ry="1.4"/><ellipse cx="637.34" cy="121.48" rx="1.55" ry="1.4"/><ellipse cx="628.17" cy="129.47" rx="1.55" ry="1.4"/><ellipse cx="627.91" cy="129.7" rx="1.55" ry="1.4"/><ellipse cx="626.76" cy="132.8" rx="1.55" ry="1.4"/><ellipse cx="631.84" cy="135.1" rx="1.55" ry="1.4"/><ellipse cx="630.03" cy="125.86" rx="1.55" ry="1.4"/><ellipse cx="629.47" cy="129.7" rx="1.55" ry="1.4"/><ellipse cx="630.81" cy="126.75" rx="1.55" ry="1.4"/><ellipse cx="628.41" cy="130.24" rx="1.55" ry="1.4"/><ellipse cx="624.92" cy="133.23" rx="1.55" ry="1.4"/><ellipse cx="630.96" cy="119.81" rx="1.55" ry="1.4"/><ellipse cx="628.43" cy="132.05" rx="1.55" ry="1.4"/><ellipse cx="630.68" cy="129.79" rx="1.55" ry="1.4"/><ellipse cx="636.87" cy="126.24" rx="1.55" ry="1.4"/><ellipse cx="627.18" cy="132.2" rx="1.55" ry="1.4"/><ellipse cx="633.11" cy="128.12" rx="1.55" ry="1.4"/><ellipse cx="633.2" cy="128.61" rx="1.55" ry="1.4"/><ellipse cx="628.5" cy="133.87" rx="1.55" ry="1.4"/><ellipse cx="630.95" cy="127.75" rx="1.55" ry="1.4"/><ellipse cx="637.4" cy="126.43" rx="1.55" ry="1.4"/><ellipse cx="629.29" cy="133.37" rx="1.55" ry="1.4"/><ellipse cx="634.07" cy="127.74" rx="1.55" ry="1.4"/><ellipse cx="635.73" cy="121.78" rx="1.55" ry="1.4"/><ellipse cx="629.53" cy="127.75" rx="1.55" ry="1.4"/><ellipse cx="637.66" cy="120.26" rx="1.55" ry="1.4"/><ellipse cx="632.96" cy="125.03" rx="1.55" ry="1.4"/><ellipse cx="631.34" cy="127.52" rx="1.55" ry="1.4"/><ellipse cx="634.11" cy="124.75" rx="1.55" ry="1.4"/><ellipse cx="630.34" cy="135.35" rx="1.55" ry="1.4"/><ellipse cx="634.07" cy="123.22" rx="1.55" ry="1.4"/><ellipse cx="628.41" cy="129.79" rx="1.55" ry="1.4"/><ellipse cx="649.79" cy="113.11" rx="1.55" ry="1.4"/><ellipse cx="644.81" cy="122.78" rx="1.55" ry="1.4"/><ellipse cx="640.92" cy="124.02" rx="1.55" ry="1.4"/><ellipse cx="643.45" cy="117.74" rx="1.55" ry="1.4"/><ellipse cx="649.37" cy="120.72" rx="1.55" ry="1.4"/><ellipse cx="648.23" cy="123.91" rx="1.55" ry="1.4"/><ellipse cx="644.06" cy="124.79" rx="1.55" ry="1.4"/><ellipse cx="642.34" cy="120.02" rx="1.55" ry="1.4"/><ellipse cx="642.66" cy="115.28" rx="1.55" ry="1.4"/><ellipse cx="650.49" cy="115.73" rx="1.55" ry="1.4"/><ellipse cx="639.25" cy="123.77" rx="1.55" ry="1.4"/><ellipse cx="649.29" cy="119.63" rx="1.55" ry="1.4"/><ellipse cx="648.89" cy="123.51" rx="1.55" ry="1.4"/><ellipse cx="640.7" cy="125.5" rx="1.55" ry="1.4"/><ellipse cx="642.31" cy="118.39" rx="1.55" ry="1.4"/><ellipse cx="645.16" cy="119.81" rx="1.55" ry="1.4"/><ellipse cx="648.17" cy="115.39" rx="1.55" ry="1.4"/><ellipse cx="650.09" cy="115.47" rx="1.55" ry="1.4"/><ellipse cx="650.62" cy="121.78" rx="1.55" ry="1.4"/><ellipse cx="641.43" cy="118.16" rx="1.55" ry="1.4"/><ellipse cx="640.28" cy="119.71" rx="1.55" ry="1.4"/><ellipse cx="644.1" cy="126.19" rx="1.55" ry="1.4"/><ellipse cx="645.01" cy="127.14" rx="1.55" ry="1.4"/><ellipse cx="646.29" cy="119.8" rx="1.55" ry="1.4"/><ellipse cx="639.19" cy="124.99" rx="1.55" ry="1.4"/><ellipse cx="646.16" cy="119.95" rx="1.55" ry="1.4"/><ellipse cx="649.71" cy="117.93" rx="1.55" ry="1.4"/><ellipse cx="649.63" cy="116.42" rx="1.55" ry="1.4"/><ellipse cx="650" cy="120.48" rx="1.55" ry="1.4"/><ellipse cx="649.73" cy="124.24" rx="1.55" ry="1.4"/><ellipse cx="650.22" cy="111.23" rx="1.55" ry="1.4"/><ellipse cx="638.42" cy="126.29" rx="1.55" ry="1.4"/><ellipse cx="649.64" cy="115.24" rx="1.55" ry="1.4"/><ellipse cx="641.3" cy="122.21" rx="1.55" ry="1.4"/><ellipse cx="641.94" cy="127.22" rx="1.55" ry="1.4"/><ellipse cx="643.73" cy="119.91" rx="1.55" ry="1.4"/><ellipse cx="650.15" cy="119.79" rx="1.55" ry="1.4"/><ellipse cx="645.62" cy="116.87" rx="1.55" ry="1.4"/><ellipse cx="655.29" cy="115.31" rx="1.55" ry="1.4"/><ellipse cx="655.57" cy="113.48" rx="1.55" ry="1.4"/><ellipse cx="662.44" cy="107.16" rx="1.55" ry="1.4"/><ellipse cx="661.37" cy="116.16" rx="1.55" ry="1.4"/><ellipse cx="652.51" cy="113.23" rx="1.55" ry="1.4"/><ellipse cx="653.95" cy="116.17" rx="1.55" ry="1.4"/><ellipse cx="655.54" cy="115" rx="1.55" ry="1.4"/><ellipse cx="653.53" cy="116.66" rx="1.55" ry="1.4"/><ellipse cx="658.02" cy="111.39" rx="1.55" ry="1.4"/><ellipse cx="653.62" cy="115.16" rx="1.55" ry="1.4"/><ellipse cx="658.17" cy="108.25" rx="1.55" ry="1.4"/><ellipse cx="662.84" cy="110.56" rx="1.55" ry="1.4"/><ellipse cx="661.71" cy="112.62" rx="1.55" ry="1.4"/><ellipse cx="652.01" cy="112.73" rx="1.55" ry="1.4"/><ellipse cx="653.41" cy="111.94" rx="1.55" ry="1.4"/><ellipse cx="656.07" cy="110.55" rx="1.55" ry="1.4"/><ellipse cx="659.09" cy="108.64" rx="1.55" ry="1.4"/><ellipse cx="655.73" cy="116.61" rx="1.55" ry="1.4"/><ellipse cx="653.98" cy="110.71" rx="1.55" ry="1.4"/><ellipse cx="655.19" cy="114.86" rx="1.55" ry="1.4"/><ellipse cx="653.37" cy="113.64" rx="1.55" ry="1.4"/><ellipse cx="661.88" cy="113.05" rx="1.55" ry="1.4"/><ellipse cx="659.75" cy="118.52" rx="1.55" ry="1.4"/><ellipse cx="656.05" cy="110.94" rx="1.55" ry="1.4"/><ellipse cx="659.79" cy="110.19" rx="1.55" ry="1.4"/><ellipse cx="657.45" cy="113.81" rx="1.55" ry="1.4"/><ellipse cx="657.54" cy="113.65" rx="1.55" ry="1.4"/><ellipse cx="668.42" cy="101.92" rx="1.55" ry="1.4"/><ellipse cx="669.98" cy="102.17" rx="1.55" ry="1.4"/><ellipse cx="676.41" cy="108.03" rx="1.55" ry="1.4"/><ellipse cx="673.81" cy="102.75" rx="1.55" ry="1.4"/><ellipse cx="674.37" cy="103.75" rx="1.55" ry="1.4"/><ellipse cx="665.27" cy="107.58" rx="1.55" ry="1.4"/><ellipse cx="670.19" cy="106.09" rx="1.55" ry="1.4"/><ellipse cx="668.41" cy="106.32" rx="1.55" ry="1.4"/><ellipse cx="664.82" cy="107.89" rx="1.55" ry="1.4"/><ellipse cx="668.78" cy="101.39" rx="1.55" ry="1.4"/><ellipse cx="664.62" cy="111.49" rx="1.55" ry="1.4"/><ellipse cx="666.69" cy="107.31" rx="1.55" ry="1.4"/><ellipse cx="674" cy="101.92" rx="1.55" ry="1.4"/><ellipse cx="672.54" cy="104.26" rx="1.55" ry="1.4"/><ellipse cx="672.7" cy="108" rx="1.55" ry="1.4"/><ellipse cx="664.69" cy="108.87" rx="1.55" ry="1.4"/><ellipse cx="665.79" cy="107.97" rx="1.55" ry="1.4"/><ellipse cx="663.94" cy="111.1" rx="1.55" ry="1.4"/><ellipse cx="664.93" cy="111.91" rx="1.55" ry="1.4"/><ellipse cx="664.97" cy="108.38" rx="1.55" ry="1.4"/><ellipse cx="676.08" cy="100.04" rx="1.55" ry="1.4"/><ellipse cx="675.23" cy="105.53" rx="1.55" ry="1.4"/><ellipse cx="666.31" cy="109.08" rx="1.55" ry="1.4"/><ellipse cx="666.95" cy="104.97" rx="1.55" ry="1.4"/><ellipse cx="689.03" cy="100.19" rx="1.55" ry="1.4"/><ellipse cx="683.97" cy="102.49" rx="1.55" ry="1.4"/><ellipse cx="681.37" cy="102.09" rx="1.55" ry="1.4"/><ellipse cx="682.63" cy="103.34" rx="1.55" ry="1.4"/><ellipse cx="680.12" cy="104.97" rx="1.55" ry="1.4"/><ellipse cx="684.15" cy="95.14" rx="1.55" ry="1.4"/><ellipse cx="685.98" cy="99.16" rx="1.55" ry="1.4"/><ellipse cx="683.27" cy="106.23" rx="1.55" ry="1.4"/><ellipse cx="687.22" cy="104" rx="1.55" ry="1.4"/><ellipse cx="678.06" cy="103.76" rx="1.55" ry="1.4"/><ellipse cx="684.41" cy="100.57" rx="1.55" ry="1.4"/><ellipse cx="689.4" cy="96.65" rx="1.55" ry="1.4"/><ellipse cx="678.53" cy="109.52" rx="1.55" ry="1.4"/><ellipse cx="683" cy="97.16" rx="1.55" ry="1.4"/><ellipse cx="684.75" cy="103.68" rx="1.55" ry="1.4"/><ellipse cx="680.97" cy="102.21" rx="1.55" ry="1.4"/><ellipse cx="689.08" cy="96.13" rx="1.55" ry="1.4"/><ellipse cx="682.88" cy="107.09" rx="1.55" ry="1.4"/><ellipse cx="682.79" cy="99.78" rx="1.55" ry="1.4"/><ellipse cx="701.21" cy="86.28" rx="1.55" ry="1.4"/><ellipse cx="689.74" cy="99.77" rx="1.55" ry="1.4"/><ellipse cx="700.77" cy="96.38" rx="1.55" ry="1.4"/><ellipse cx="691.2" cy="100.37" rx="1.55" ry="1.4"/><ellipse cx="694.44" cy="95.59" rx="1.55" ry="1.4"/><ellipse cx="695.85" cy="99.54" rx="1.55" ry="1.4"/><ellipse cx="695.7" cy="99.99" rx="1.55" ry="1.4"/><ellipse cx="690.04" cy="98.41" rx="1.55" ry="1.4"/><ellipse cx="693.64" cy="91.63" rx="1.55" ry="1.4"/><ellipse cx="694.15" cy="96.4" rx="1.55" ry="1.4"/><ellipse cx="701.9" cy="96.79" rx="1.55" ry="1.4"/><ellipse cx="701.4" cy="99.5" rx="1.55" ry="1.4"/><ellipse cx="697.09" cy="94.79" rx="1.55" ry="1.4"/><ellipse cx="701.61" cy="91.65" rx="1.55" ry="1.4"/><ellipse cx="700.71" cy="98.26" rx="1.55" ry="1.4"/><ellipse cx="694.39" cy="100.44" rx="1.55" ry="1.4"/><ellipse cx="691.05" cy="97.67" rx="1.55" ry="1.4"/><ellipse cx="697.39" cy="92.51" rx="1.55" ry="1.4"/><ellipse cx="693.71" cy="97.28" rx="1.55" ry="1.4"/><ellipse cx="689.66" cy="101.47" rx="1.55" ry="1.4"/><ellipse cx="715.16" cy="95.39" rx="1.55" ry="1.4"/><ellipse cx="715.01" cy="83.31" rx="1.55" ry="1.4"/><ellipse cx="709.41" cy="88.9" rx="1.55" ry="1.4"/><ellipse cx="710.47" cy="94.99" rx="1.55" ry="1.4"/><ellipse cx="711.12" cy="87.22" rx="1.55" ry="1.4"/><ellipse cx="714.45" cy="87.04" rx="1.55" ry="1.4"/><ellipse cx="708.52" cy="93.47" rx="1.55" ry="1.4"/><ellipse cx="710.01" cy="92.44" rx="1.55" ry="1.4"/><ellipse cx="705.4" cy="90.4" rx="1.55" ry="1.4"/><ellipse cx="705.61" cy="86.95" rx="1.55" ry="1.4"/><ellipse cx="709.22" cy="89.92" rx="1.55" ry="1.4"/><ellipse cx="705.43" cy="90.72" rx="1.55" ry="1.4"/><ellipse cx="702.86" cy="88.06" rx="1.55" ry="1.4"/><ellipse cx="707.24" cy="96.94" rx="1.55" ry="1.4"/><ellipse cx="712.17" cy="90.09" rx="1.55" ry="1.4"/><ellipse cx="706.05" cy="92.84" rx="1.55" ry="1.4"/><ellipse cx="713.63" cy="86.32" rx="1.55" ry="1.4"/><ellipse cx="711.56" cy="95.4" rx="1.55" ry="1.4"/><ellipse cx="710.92" cy="90.17" rx="1.55" ry="1.4"/><ellipse cx="714.01" cy="95.2" rx="1.55" ry="1.4"/><ellipse cx="703.42" cy="91.83" rx="1.55" ry="1.4"/><ellipse cx="704.78" cy="94.65" rx="1.55" ry="1.4"/><ellipse cx="727.17" cy="87.54" rx="1.55" ry="1.4"/><ellipse cx="727.14" cy="82.66" rx="1.55" ry="1.4"/><ellipse cx="716.42" cy="90.61" rx="1.55" ry="1.4"/><ellipse cx="725.42" cy="86.69" rx="1.55" ry="1.4"/><ellipse cx="715.6" cy="90.54" rx="1.55" ry="1.4"/><ellipse cx="717.15" cy="89.79" rx="1.55" ry="1.4"/><ellipse cx="716.82" cy="90.95" rx="1.55" ry="1.4"/><ellipse cx="719.21" cy="91.78" rx="1.55" ry="1.4"/><ellipse cx="720.43" cy="90.18" rx="1.55" ry="1.4"/><ellipse cx="727.19" cy="93.86" rx="1.55" ry="1.4"/><ellipse cx="721.05" cy="89.14" rx="1.55" ry="1.4"/><ellipse cx="717.01" cy="87.03" rx="1.55" ry="1.4"/><ellipse cx="718.93" cy="94.05" rx="1.55" ry="1.4"/><ellipse cx="715.49" cy="88.94" rx="1.55" ry="1.4"/><ellipse cx="715.77" cy="91.88" rx="1.55" ry="1.4"/><ellipse cx="720.98" cy="90.94" rx="1.55" ry="1.4"/><ellipse cx="722.03" cy="91.14" rx="1.55" ry="1.4"/><ellipse cx="718.64" cy="97.21" rx="1.55" ry="1.4"/><ellipse cx="733.25" cy="81.02" rx="1.55" ry="1.4"/><ellipse cx="729.68" cy="90.42" rx="1.55" ry="1.4"/><ellipse cx="736.86" cy="86.62" rx="1.55" ry="1.4"/><ellipse cx="733.42" cy="81.42" rx="1.55" ry="1.4"/><ellipse cx="730.43" cy="83.63" rx="1.55" ry="1.4"/><ellipse cx="734.77" cy="85.56" rx="1.55" ry="1.4"/><ellipse cx="731.04" cy="86.23" rx="1.55" ry="1.4"/><ellipse cx="732.12" cy="85" rx="1.55" ry="1.4"/><ellipse cx="729.95" cy="83.47" rx="1.55" ry="1.4"/><ellipse cx="738.44" cy="91.17" rx="1.55" ry="1.4"/><ellipse cx="731.95" cy="78.05" rx="1.55" ry="1.4"/><ellipse cx="740.7" cy="83.14" rx="1.55" ry="1.4"/><ellipse cx="733.58" cy="79.83" rx="1.55" ry="1.4"/><ellipse cx="730.35" cy="84.72" rx="1.55" ry="1.4"/><ellipse cx="737.46" cy="77.29" rx="1.55" ry="1.4"/><ellipse cx="737.83" cy="82.94" rx="1.55" ry="1.4"/><ellipse cx="739.74" cy="85.46" rx="1.55" ry="1.4"/><ellipse cx="730.04" cy="84.97" rx="1.55" ry="1.4"/><ellipse cx="751.49" cy="74.96" rx="1.55" ry="1.4"/><ellipse cx="752.4" cy="80.08" rx="1.55" ry="1.4"/><ellipse cx="745.21" cy="81.15" rx="1.55" ry="1.4"/><ellipse cx="747.15" cy="83.36" rx="1.55" ry="1.4"/><ellipse cx="749.29" cy="74.11" rx="1.55" ry="1.4"/><ellipse cx="744.45" cy="85" rx="1.55" ry="1.4"/><ellipse cx="752.55" cy="84.17" rx="1.55" ry="1.4"/><ellipse cx="750.32" cy="85.97" rx="1.55" ry="1.4"/><ellipse cx="752.36" cy="82.17" rx="1.55" ry="1.4"/><ellipse cx="747.09" cy="81.61" rx="1.55" ry="1.4"/><ellipse cx="747.99" cy="86.72" rx="1.55" ry="1.4"/><ellipse cx="743.79" cy="77.73" rx="1.55" ry="1.4"/><ellipse cx="745.34" cy="81.42" rx="1.55" ry="1.4"/><ellipse cx="750.71" cy="73.57" rx="1.55" ry="1.4"/><ellipse cx="753.68" cy="86.06" rx="1.55" ry="1.4"/><ellipse cx="743.24" cy="81.2" rx="1.55" ry="1.4"/><ellipse cx="741.93" cy="81.5" rx="1.55" ry="1.4"/><ellipse cx="742.15" cy="78.76" rx="1.55" ry="1.4"/><ellipse cx="759.84" cy="71.56" rx="1.55" ry="1.4"/><ellipse cx="764.46" cy="80.31" rx="1.55" ry="1.4"/><ellipse cx="757.12" cy="76.22" rx="1.55" ry="1.4"/><ellipse cx="760.38" cy="75.96" rx="1.55" ry="1.4"/><ellipse cx="760.88" cy="79.53" rx="1.55" ry="1.4"/><ellipse cx="765.05" cy="77.17" rx="1.55" ry="1.4"/><ellipse cx="756.33" cy="77.47" rx="1.55" ry="1.4"/><ellipse cx="754.4" cy="79.12" rx="1.55" ry="1.4"/><ellipse cx="760.76" cy="72.29" rx="1.55" ry="1.4"/><ellipse cx="758.81" cy="80.04" rx="1.55" ry="1.4"/><ellipse cx="757.99" cy="77.15" rx="1.55" ry="1.4"/><ellipse cx="764.2" cy="76.43" rx="1.55" ry="1.4"/><ellipse cx="763.05" cy="81.41" rx="1.55" ry="1.4"/><ellipse cx="755.3" cy="66.28" rx="1.55" ry="1.4"/><ellipse cx="761.3" cy="77.38" rx="1.55" ry="1.4"/><ellipse cx="764.53" cy="78.36" rx="1.55" ry="1.4"/><ellipse cx="765.98" cy="68.69" rx="1.55" ry="1.4"/><ellipse cx="754.21" cy="76.4" rx="1.55" ry="1.4"/><ellipse cx="777.59" cy="68.68" rx="1.55" ry="1.4"/><ellipse cx="767.7" cy="73.76" rx="1.55" ry="1.4"/><ellipse cx="775.97" cy="71.88" rx="1.55" ry="1.4"/><ellipse cx="774.88" cy="74.74" rx="1.55" ry="1.4"/><ellipse cx="779.46" cy="70.77" rx="1.55" ry="1.4"/><ellipse cx="775.32" cy="67.44" rx="1.55" ry="1.4"/><ellipse cx="768.05" cy="74.05" rx="1.55" ry="1.4"/><ellipse cx="775.82" cy="73.32" rx="1.55" ry="1.4"/><ellipse cx="770.44" cy="74.29" rx="1.55" ry="1.4"/><ellipse cx="777.91" cy="75.84" rx="1.55" ry="1.4"/><ellipse cx="767.55" cy="71.43" rx="1.55" ry="1.4"/><ellipse cx="771.34" cy="75.48" rx="1.55" ry="1.4"/><ellipse cx="775.89" cy="72.35" rx="1.55" ry="1.4"/><ellipse cx="769.16" cy="69.77" rx="1.55" ry="1.4"/><ellipse cx="788.44" cy="75.15" rx="1.55" ry="1.4"/><ellipse cx="789.1" cy="71.14" rx="1.55" ry="1.4"/><ellipse cx="789.57" cy="72.48" rx="1.55" ry="1.4"/><ellipse cx="791.4" cy="66.92" rx="1.55" ry="1.4"/><ellipse cx="785.42" cy="66.04" rx="1.55" ry="1.4"/><ellipse cx="781.92" cy="69.88" rx="1.55" ry="1.4"/><ellipse cx="783.45" cy="71" rx="1.55" ry="1.4"/><ellipse cx="785.12" cy="67.47" rx="1.55" ry="1.4"/><ellipse cx="780.79" cy="75.47" rx="1.55" ry="1.4"/><ellipse cx="789.25" cy="68.93" rx="1.55" ry="1.4"/><ellipse cx="780.9" cy="74.38" rx="1.55" ry="1.4"/><ellipse cx="780.83" cy="72.63" rx="1.55" ry="1.4"/><ellipse cx="792.14" cy="67.32" rx="1.55" ry="1.4"/><ellipse cx="790.51" cy="65" rx="1.55" ry="1.4"/><ellipse cx="796.3" cy="63.75" rx="1.55" ry="1.4"/><ellipse cx="797.43" cy="68.09" rx="1.55" ry="1.4"/><ellipse cx="803.7" cy="69.94" rx="1.55" ry="1.4"/><ellipse cx="801.02" cy="69.02" rx="1.55" ry="1.4"/><ellipse cx="796.44" cy="65.24" rx="1.55" ry="1.4"/><ellipse cx="798.82" cy="64.37" rx="1.55" ry="1.4"/><ellipse cx="804.08" cy="61.45" rx="1.55" ry="1.4"/><ellipse cx="793.02" cy="71.96" rx="1.55" ry="1.4"/><ellipse cx="805.85" cy="64.36" rx="1.55" ry="1.4"/><ellipse cx="800.34" cy="64.18" rx="1.55" ry="1.4"/><ellipse cx="821.85" cy="67.8" rx="1.55" ry="1.4"/><ellipse cx="829.55" cy="67.4" rx="1.55" ry="1.4"/><ellipse cx="837.05" cy="59.7" rx="1.55" ry="1.4"/><ellipse cx="859.35" cy="45.7" rx="1.55" ry="1.4"/><ellipse cx="865.45" cy="53" rx="1.55" ry="1.4"/><ellipse cx="883.55" cy="50.5" rx="1.55" ry="1.4"/><ellipse cx="884.95" cy="56" rx="1.55" ry="1.4"/><ellipse cx="887.55" cy="49.6" rx="1.55" ry="1.4"/><ellipse cx="891.55" cy="48.4" rx="1.55" ry="1.4"/><ellipse cx="893.95" cy="51" rx="1.55" ry="1.4"/><ellipse cx="901.55" cy="49.6" rx="1.55" ry="1.4"/><ellipse cx="906.95" cy="53.6" rx="1.55" ry="1.4"/><ellipse cx="806.65" cy="58.9" rx="1.55" ry="1.4"/><ellipse cx="810.25" cy="62.9" rx="1.55" ry="1.4"/><ellipse cx="813.45" cy="65.7" rx="1.55" ry="1.4"/><ellipse cx="805.45" cy="67.3" rx="1.55" ry="1.4"/><ellipse cx="801.35" cy="62.1" rx="1.55" ry="1.4"/><ellipse cx="798.25" cy="57.6" rx="1.55" ry="1.4"/></g>
<path d="M548.28 384.11 L548.71 362.65 L549.13 346.98 L549.55 334.67 L549.97 324.55 L550.39 315.97 L550.81 308.52 L551.23 301.96 L551.65 296.09 L552.07 290.78 L552.49 285.93 L552.92 281.48 L553.34 277.37 L553.76 273.54 L554.18 269.96 L554.6 266.6 L555.02 263.44 L555.44 260.45 L555.86 257.61 L556.28 254.92 L556.7 252.35 L557.12 249.9 L557.55 247.56 L557.97 245.31 L558.39 243.15 L558.81 241.08 L559.23 239.08 L559.65 237.15 L560.07 235.29 L560.49 233.49 L560.91 231.75 L561.33 230.06 L561.75 228.43 L562.18 226.84 L562.6 225.3 L563.02 223.8 L563.44 222.34 L563.86 220.91 L564.28 219.53 L564.7 218.18 L565.12 216.86 L565.54 215.57 L565.96 214.32 L566.39 213.09 L566.81 211.89 L567.23 210.71 L567.65 209.56 L568.07 208.44 L568.49 207.33 L568.91 206.25 L569.33 205.19 L569.75 204.15 L570.17 203.13 L570.59 202.12 L571.02 201.14 L571.44 200.17 L571.86 199.22 L572.28 198.29 L572.7 197.37 L573.12 196.47 L576.16 190.34 L579.21 184.83 L582.25 179.82 L585.29 175.23 L588.34 170.98 L591.38 167.03 L594.42 163.34 L597.47 159.87 L600.51 156.6 L603.56 153.51 L606.6 150.58 L609.64 147.79 L612.69 145.13 L615.73 142.58 L618.77 140.14 L621.82 137.8 L624.86 135.54 L627.9 133.37 L630.95 131.28 L633.99 129.25 L637.03 127.3 L640.08 125.4 L643.12 123.57 L646.16 121.78 L649.21 120.05 L652.25 118.37 L655.3 116.73 L658.34 115.14 L661.38 113.58 L664.43 112.07 L667.47 110.59 L670.51 109.15 L673.56 107.73 L676.6 106.36 L679.64 105.01 L682.69 103.69 L685.73 102.39 L688.77 101.13 L691.82 99.89 L694.86 98.67 L697.9 97.48 L700.95 96.3 L703.99 95.16 L707.04 94.03 L710.08 92.92 L713.12 91.83 L716.17 90.76 L719.21 89.7 L722.25 88.67 L725.3 87.65 L728.34 86.65 L731.38 85.66 L734.43 84.69 L737.47 83.73 L740.51 82.79 L743.56 81.86 L746.6 80.95 L749.64 80.04 L752.69 79.15 L755.73 78.28 L758.78 77.41 L761.82 76.56 L764.86 75.72 L767.91 74.88 L770.95 74.06 L773.99 73.25 L777.04 72.45 L780.08 71.66 L783.12 70.88 L786.17 70.11 L789.21 69.35 L792.25 68.6 L795.3 67.86 L798.34 67.12 L801.38 66.39 L804.43 65.67 L807.47 64.96 L810.52 64.26 L813.56 63.57 L816.6 62.88 L819.65 62.2 L822.69 61.53 L825.73 60.86 L828.78 60.2 L831.82 59.55 L834.86 58.9 L837.91 58.26 L840.95 57.63 L843.99 57 L847.04 56.38 L850.08 55.77 L853.12 55.16 L856.17 54.55 L859.21 53.96 L862.26 53.36 L865.3 52.78 L868.34 52.2 L871.39 51.62 L874.43 51.05 L877.47 50.48 L880.52 49.92 L883.56 49.37 L886.6 48.82 L889.65 48.27 L892.69 47.73 L895.73 47.19 L898.78 46.66 L901.82 46.13 L904.86 45.61 L907.91 45.09 L910.95 44.57 L914 44.06 L917.04 43.55 L920.08 43.05 L923.13 42.55 L926.17 42.05 L929.21 41.56 L932.26 41.07 L935.3 40.59" stroke="#e8152a" stroke-width="1.5" fill="none" stroke-linejoin="round"/>
<path d="M548.28 383.51 L548.71 362.11 L549.13 346.49 L549.55 334.24 L549.97 324.17 L550.39 315.64 L550.81 308.25 L551.23 301.73 L551.65 295.91 L552.07 290.65 L552.49 285.85 L552.92 281.44 L553.34 277.37 L553.76 273.59 L554.18 270.05 L554.6 266.74 L555.02 263.62 L555.44 260.67 L555.86 257.88 L556.28 255.23 L556.7 252.7 L557.12 250.3 L557.55 247.99 L557.97 245.79 L558.39 243.67 L558.81 241.64 L559.23 239.68 L559.65 237.79 L560.07 235.97 L560.49 234.21 L560.91 232.51 L561.33 230.87 L561.75 229.27 L562.18 227.72 L562.6 226.22 L563.02 224.76 L563.44 223.34 L563.86 221.95 L564.28 220.61 L564.7 219.3 L565.12 218.02 L565.54 216.77 L565.96 215.55 L566.39 214.36 L566.81 213.2 L567.23 212.06 L567.65 210.95 L568.07 209.86 L568.49 208.79 L568.91 207.75 L569.33 206.72 L569.75 205.72 L570.17 204.74 L570.59 203.77 L571.02 202.82 L571.44 201.89 L571.86 200.98 L572.28 200.08 L572.7 199.2 L573.12 198.33 L576.16 192.47 L579.21 187.22 L582.25 182.46 L585.29 178.11 L588.34 174.1 L591.38 170.39 L594.42 166.94 L597.47 163.7 L600.51 160.67 L603.56 157.8 L606.6 155.09 L609.64 152.52 L612.69 150.07 L615.73 147.74 L618.77 145.51 L621.82 143.38 L624.86 141.33 L627.9 139.36 L630.95 137.47 L633.99 135.65 L637.03 133.89 L640.08 132.19 L643.12 130.55 L646.16 128.95 L649.21 127.41 L652.25 125.92 L655.3 124.46 L658.34 123.05 L661.38 121.68 L664.43 120.34 L667.47 119.04 L670.51 117.77 L673.56 116.53 L676.6 115.33 L679.64 114.15 L682.69 113 L685.73 111.87 L688.77 110.77 L691.82 109.69 L694.86 108.64 L697.9 107.61 L700.95 106.6 L703.99 105.61 L707.04 104.63 L710.08 103.68 L713.12 102.75 L716.17 101.83 L719.21 100.93 L722.25 100.04 L725.3 99.17 L728.34 98.32 L731.38 97.48 L734.43 96.65 L737.47 95.84 L740.51 95.04 L743.56 94.25 L746.6 93.48 L749.64 92.72 L752.69 91.97 L755.73 91.23 L758.78 90.5 L761.82 89.78 L764.86 89.07 L767.91 88.37 L770.95 87.69 L773.99 87.01 L777.04 86.34 L780.08 85.68 L783.12 85.02 L786.17 84.38 L789.21 83.75 L792.25 83.12 L795.3 82.5 L798.34 81.89 L801.38 81.29 L804.43 80.69 L807.47 80.1 L810.52 79.52 L813.56 78.94 L816.6 78.38 L819.65 77.81 L822.69 77.26 L825.73 76.71 L828.78 76.17 L831.82 75.63 L834.86 75.1 L837.91 74.57 L840.95 74.05 L843.99 73.54 L847.04 73.03 L850.08 72.52 L853.12 72.02 L856.17 71.53 L859.21 71.04 L862.26 70.56 L865.3 70.08 L868.34 69.6 L871.39 69.13 L874.43 68.67 L877.47 68.21 L880.52 67.75 L883.56 67.3 L886.6 66.85 L889.65 66.41 L892.69 65.97 L895.73 65.53 L898.78 65.1 L901.82 64.67 L904.86 64.25 L907.91 63.83 L910.95 63.41 L914 63 L917.04 62.59 L920.08 62.18 L923.13 61.78 L926.17 61.38 L929.21 60.98 L932.26 60.59 L935.3 60.2" stroke="#000" stroke-width="1.6" fill="none" stroke-linejoin="round"/>
</g>
<path d="M598.99 28.05v4.2M598.99 301.6v-4.2M650.73 28.05v4.2M650.73 301.6v-4.2M702.47 28.05v4.2M702.47 301.6v-4.2M754.21 28.05v4.2M754.21 301.6v-4.2M805.95 28.05v4.2M805.95 301.6v-4.2M857.69 28.05v4.2M857.69 301.6v-4.2M909.43 28.05v4.2M909.43 301.6v-4.2M546.95 250.11h4.2M935.1 250.11h-4.2M546.95 201.07h4.2M935.1 201.07h-4.2M546.95 154.54h4.2M935.1 154.54h-4.2M546.95 110.29h4.2M935.1 110.29h-4.2M546.95 68.1h4.2M935.1 68.1h-4.2" stroke="#111" stroke-width="1.4" fill="none"/>
<rect x="546.95" y="28.05" width="388.15" height="273.55" fill="none" stroke="#0a0a0a" stroke-width="1.6"/>
<g font-size="15.6" fill="#1c1c1c" stroke="#1c1c1c" stroke-width="0.25">
<text transform="translate(547.25 322.7) scale(1.07 1)" text-anchor="middle">0</text>
<text transform="translate(598.99 322.7) scale(1.07 1)" text-anchor="middle">0.2</text>
<text transform="translate(650.73 322.7) scale(1.07 1)" text-anchor="middle">0.4</text>
<text transform="translate(702.47 322.7) scale(1.07 1)" text-anchor="middle">0.6</text>
<text transform="translate(754.21 322.7) scale(1.07 1)" text-anchor="middle">0.8</text>
<text transform="translate(805.95 322.7) scale(1.07 1)" text-anchor="middle">1</text>
<text transform="translate(857.69 322.7) scale(1.07 1)" text-anchor="middle">1.2</text>
<text transform="translate(909.43 322.7) scale(1.07 1)" text-anchor="middle">1.4</text>
<text transform="translate(540.95 307.85) scale(1.07 1)" text-anchor="end">34</text>
<text transform="translate(540.95 256.01) scale(1.07 1)" text-anchor="end">36</text>
<text transform="translate(540.95 206.97) scale(1.07 1)" text-anchor="end">38</text>
<text transform="translate(540.95 160.44) scale(1.07 1)" text-anchor="end">40</text>
<text transform="translate(540.95 116.19) scale(1.07 1)" text-anchor="end">42</text>
<text transform="translate(540.95 74) scale(1.07 1)" text-anchor="end">44</text>
<text transform="translate(540.95 33.68) scale(1.07 1)" text-anchor="end">46</text>
</g>
<text transform="translate(740.98 344.6) scale(1.155 1)" text-anchor="middle" font-size="16.3" fill="#1c1c1c" stroke="#1c1c1c" stroke-width="0.3">Redshift <tspan font-style="italic">z</tspan></text>
<text transform="translate(514.65 164.93) scale(1.09 1) rotate(-90)" text-anchor="middle" font-size="16.85" fill="#1c1c1c" stroke="#1c1c1c" stroke-width="0.3">Distance modulus</text>
<text transform="translate(741.48 22.8) scale(1.152 1)" text-anchor="middle" font-size="16" font-weight="bold" fill="#000">Conformal EdS model</text>
<text transform="translate(489.4 17.3) scale(0.95 1)" font-size="22.4" font-weight="bold" fill="#000">B</text>
</g>
</svg>
</body></html>
